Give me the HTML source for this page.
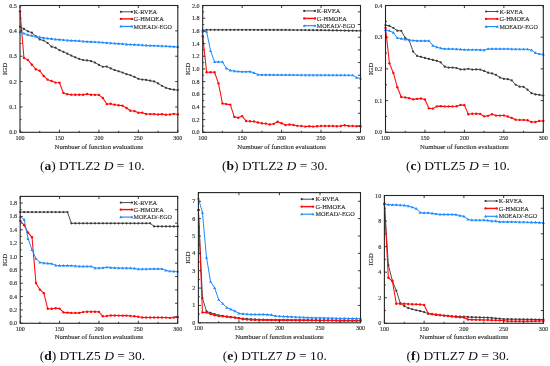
<!DOCTYPE html>
<html><head><meta charset="utf-8"><title>IGD convergence</title>
<style>
html,body{margin:0;padding:0;background:#fff;}
body{width:550px;height:366px;overflow:hidden;}
svg{display:block;}
#w{width:550px;height:366px;}
text{font-family:"Liberation Serif",serif;fill:#333;}
.tl text,.al,.yl,.lg{stroke:#333;stroke-width:0.16px;}
.tl text{font-size:6.1px;}
.al{font-size:6.7px;}
.yl{font-size:6.9px;}
.lg{font-size:6.4px;}
.cap{font-size:13.5px;fill:#111;}
</style></head><body>
<div id="w"><svg width="550" height="366" viewBox="0 0 550 366">
<rect width="550" height="366" fill="#fff"/>
<path d="M20 26.7 L23.95 28.91 L27.89 31.29 L31.84 32.71 L35.78 36.13 L39.73 39.47 L43.67 40.48 L47.62 42.99 L51.56 46.64 L55.51 47.7 L59.45 50.16 L63.4 51.79 L67.34 53.72 L71.28 55.56 L75.23 57.34 L79.17 58.86 L83.12 59.99 L87.07 60.4 L91.01 61.06 L94.96 62.59 L98.9 64.89 L102.84 66.77 L106.79 66.54 L110.73 68.43 L114.68 70.12 L118.63 71.29 L122.57 72.53 L126.52 74.16 L130.46 75.23 L134.41 76.91 L138.35 78.85 L142.3 79.53 L146.24 79.91 L150.19 80.72 L154.13 81.42 L158.07 83.39 L162.02 85.87 L165.97 87.8 L169.91 88.99 L173.86 89.66 L177.8 90.1" fill="none" stroke="#383838" stroke-width="0.9" stroke-linejoin="round"/>
<circle cx="20" cy="26.7" r="1.1" fill="#383838"/><circle cx="23.95" cy="28.91" r="1.1" fill="#383838"/><circle cx="27.89" cy="31.29" r="1.1" fill="#383838"/><circle cx="31.84" cy="32.71" r="1.1" fill="#383838"/><circle cx="35.78" cy="36.13" r="1.1" fill="#383838"/><circle cx="39.73" cy="39.47" r="1.1" fill="#383838"/><circle cx="43.67" cy="40.48" r="1.1" fill="#383838"/><circle cx="47.62" cy="42.99" r="1.1" fill="#383838"/><circle cx="51.56" cy="46.64" r="1.1" fill="#383838"/><circle cx="55.51" cy="47.7" r="1.1" fill="#383838"/><circle cx="59.45" cy="50.16" r="1.1" fill="#383838"/><circle cx="63.4" cy="51.79" r="1.1" fill="#383838"/><circle cx="67.34" cy="53.72" r="1.1" fill="#383838"/><circle cx="71.28" cy="55.56" r="1.1" fill="#383838"/><circle cx="75.23" cy="57.34" r="1.1" fill="#383838"/><circle cx="79.17" cy="58.86" r="1.1" fill="#383838"/><circle cx="83.12" cy="59.99" r="1.1" fill="#383838"/><circle cx="87.07" cy="60.4" r="1.1" fill="#383838"/><circle cx="91.01" cy="61.06" r="1.1" fill="#383838"/><circle cx="94.96" cy="62.59" r="1.1" fill="#383838"/><circle cx="98.9" cy="64.89" r="1.1" fill="#383838"/><circle cx="102.84" cy="66.77" r="1.1" fill="#383838"/><circle cx="106.79" cy="66.54" r="1.1" fill="#383838"/><circle cx="110.73" cy="68.43" r="1.1" fill="#383838"/><circle cx="114.68" cy="70.12" r="1.1" fill="#383838"/><circle cx="118.63" cy="71.29" r="1.1" fill="#383838"/><circle cx="122.57" cy="72.53" r="1.1" fill="#383838"/><circle cx="126.52" cy="74.16" r="1.1" fill="#383838"/><circle cx="130.46" cy="75.23" r="1.1" fill="#383838"/><circle cx="134.41" cy="76.91" r="1.1" fill="#383838"/><circle cx="138.35" cy="78.85" r="1.1" fill="#383838"/><circle cx="142.3" cy="79.53" r="1.1" fill="#383838"/><circle cx="146.24" cy="79.91" r="1.1" fill="#383838"/><circle cx="150.19" cy="80.72" r="1.1" fill="#383838"/><circle cx="154.13" cy="81.42" r="1.1" fill="#383838"/><circle cx="158.07" cy="83.39" r="1.1" fill="#383838"/><circle cx="162.02" cy="85.87" r="1.1" fill="#383838"/><circle cx="165.97" cy="87.8" r="1.1" fill="#383838"/><circle cx="169.91" cy="88.99" r="1.1" fill="#383838"/><circle cx="173.86" cy="89.66" r="1.1" fill="#383838"/><circle cx="177.8" cy="90.1" r="1.1" fill="#383838"/>
<path d="M20 11.2 L23.95 58.02 L27.89 59.9 L31.84 64.68 L35.78 69.23 L39.73 70.73 L43.67 75.96 L47.62 79.63 L51.56 81.05 L55.51 82.6 L59.45 82.81 L63.4 92.9 L67.34 94.15 L71.28 94.67 L75.23 94.75 L79.17 94.8 L83.12 94.77 L87.07 93.96 L91.01 94.8 L94.96 94.85 L98.9 94.9 L102.84 97.96 L106.79 104.09 L110.73 103.75 L114.68 104.65 L118.63 105.3 L122.57 105.63 L126.52 107.95 L130.46 110.7 L134.41 111.09 L138.35 112.78 L142.3 112.64 L146.24 114.01 L150.19 114.1 L154.13 114.1 L158.07 114.49 L162.02 114.13 L165.97 114.73 L169.91 114.52 L173.86 113.83 L177.8 114.4" fill="none" stroke="#ff0a0a" stroke-width="1.05" stroke-linejoin="round"/>
<circle cx="20" cy="11.2" r="1.2" fill="#ff0a0a"/><circle cx="23.95" cy="58.02" r="1.2" fill="#ff0a0a"/><circle cx="27.89" cy="59.9" r="1.2" fill="#ff0a0a"/><circle cx="31.84" cy="64.68" r="1.2" fill="#ff0a0a"/><circle cx="35.78" cy="69.23" r="1.2" fill="#ff0a0a"/><circle cx="39.73" cy="70.73" r="1.2" fill="#ff0a0a"/><circle cx="43.67" cy="75.96" r="1.2" fill="#ff0a0a"/><circle cx="47.62" cy="79.63" r="1.2" fill="#ff0a0a"/><circle cx="51.56" cy="81.05" r="1.2" fill="#ff0a0a"/><circle cx="55.51" cy="82.6" r="1.2" fill="#ff0a0a"/><circle cx="59.45" cy="82.81" r="1.2" fill="#ff0a0a"/><circle cx="63.4" cy="92.9" r="1.2" fill="#ff0a0a"/><circle cx="67.34" cy="94.15" r="1.2" fill="#ff0a0a"/><circle cx="71.28" cy="94.67" r="1.2" fill="#ff0a0a"/><circle cx="75.23" cy="94.75" r="1.2" fill="#ff0a0a"/><circle cx="79.17" cy="94.8" r="1.2" fill="#ff0a0a"/><circle cx="83.12" cy="94.77" r="1.2" fill="#ff0a0a"/><circle cx="87.07" cy="93.96" r="1.2" fill="#ff0a0a"/><circle cx="91.01" cy="94.8" r="1.2" fill="#ff0a0a"/><circle cx="94.96" cy="94.85" r="1.2" fill="#ff0a0a"/><circle cx="98.9" cy="94.9" r="1.2" fill="#ff0a0a"/><circle cx="102.84" cy="97.96" r="1.2" fill="#ff0a0a"/><circle cx="106.79" cy="104.09" r="1.2" fill="#ff0a0a"/><circle cx="110.73" cy="103.75" r="1.2" fill="#ff0a0a"/><circle cx="114.68" cy="104.65" r="1.2" fill="#ff0a0a"/><circle cx="118.63" cy="105.3" r="1.2" fill="#ff0a0a"/><circle cx="122.57" cy="105.63" r="1.2" fill="#ff0a0a"/><circle cx="126.52" cy="107.95" r="1.2" fill="#ff0a0a"/><circle cx="130.46" cy="110.7" r="1.2" fill="#ff0a0a"/><circle cx="134.41" cy="111.09" r="1.2" fill="#ff0a0a"/><circle cx="138.35" cy="112.78" r="1.2" fill="#ff0a0a"/><circle cx="142.3" cy="112.64" r="1.2" fill="#ff0a0a"/><circle cx="146.24" cy="114.01" r="1.2" fill="#ff0a0a"/><circle cx="150.19" cy="114.1" r="1.2" fill="#ff0a0a"/><circle cx="154.13" cy="114.1" r="1.2" fill="#ff0a0a"/><circle cx="158.07" cy="114.49" r="1.2" fill="#ff0a0a"/><circle cx="162.02" cy="114.13" r="1.2" fill="#ff0a0a"/><circle cx="165.97" cy="114.73" r="1.2" fill="#ff0a0a"/><circle cx="169.91" cy="114.52" r="1.2" fill="#ff0a0a"/><circle cx="173.86" cy="113.83" r="1.2" fill="#ff0a0a"/><circle cx="177.8" cy="114.4" r="1.2" fill="#ff0a0a"/>
<path d="M20 31.8 L23.95 33.38 L27.89 34.92 L31.84 35.64 L35.78 36.38 L39.73 37.15 L43.67 37.79 L47.62 38.36 L51.56 38.81 L55.51 39.23 L59.45 39.6 L63.4 39.95 L67.34 40.23 L71.28 40.49 L75.23 40.69 L79.17 40.9 L83.12 41.26 L87.07 41.61 L91.01 41.78 L94.96 41.95 L98.9 42.19 L102.84 42.45 L106.79 42.79 L110.73 43.15 L114.68 43.33 L118.63 43.49 L122.57 43.88 L126.52 44.29 L130.46 44.45 L134.41 44.61 L138.35 44.87 L142.3 45.12 L146.24 45.33 L150.19 45.53 L154.13 45.68 L158.07 45.83 L162.02 45.99 L165.97 46.17 L169.91 46.42 L173.86 46.67 L177.8 46.9" fill="none" stroke="#1e8aff" stroke-width="1.0" stroke-linejoin="round"/>
<path d="M20 30.25L21.55 32.96L18.45 32.96Z" fill="#1e8aff"/><path d="M23.95 31.83L25.5 34.55L22.39 34.55Z" fill="#1e8aff"/><path d="M27.89 33.37L29.44 36.09L26.34 36.09Z" fill="#1e8aff"/><path d="M31.84 34.09L33.38 36.8L30.29 36.8Z" fill="#1e8aff"/><path d="M35.78 34.83L37.33 37.55L34.23 37.55Z" fill="#1e8aff"/><path d="M39.73 35.6L41.27 38.31L38.18 38.31Z" fill="#1e8aff"/><path d="M43.67 36.24L45.22 38.95L42.12 38.95Z" fill="#1e8aff"/><path d="M47.62 36.81L49.16 39.52L46.07 39.52Z" fill="#1e8aff"/><path d="M51.56 37.26L53.11 39.97L50.01 39.97Z" fill="#1e8aff"/><path d="M55.51 37.68L57.05 40.39L53.96 40.39Z" fill="#1e8aff"/><path d="M59.45 38.05L61 40.76L57.9 40.76Z" fill="#1e8aff"/><path d="M63.4 38.4L64.95 41.12L61.85 41.12Z" fill="#1e8aff"/><path d="M67.34 38.68L68.89 41.39L65.79 41.39Z" fill="#1e8aff"/><path d="M71.28 38.94L72.83 41.65L69.73 41.65Z" fill="#1e8aff"/><path d="M75.23 39.14L76.78 41.86L73.68 41.86Z" fill="#1e8aff"/><path d="M79.17 39.35L80.72 42.06L77.62 42.06Z" fill="#1e8aff"/><path d="M83.12 39.71L84.67 42.42L81.57 42.42Z" fill="#1e8aff"/><path d="M87.07 40.06L88.62 42.77L85.52 42.77Z" fill="#1e8aff"/><path d="M91.01 40.23L92.56 42.95L89.46 42.95Z" fill="#1e8aff"/><path d="M94.96 40.4L96.51 43.12L93.41 43.12Z" fill="#1e8aff"/><path d="M98.9 40.64L100.45 43.35L97.35 43.35Z" fill="#1e8aff"/><path d="M102.84 40.9L104.39 43.61L101.3 43.61Z" fill="#1e8aff"/><path d="M106.79 41.24L108.34 43.95L105.24 43.95Z" fill="#1e8aff"/><path d="M110.73 41.6L112.28 44.31L109.19 44.31Z" fill="#1e8aff"/><path d="M114.68 41.78L116.23 44.49L113.13 44.49Z" fill="#1e8aff"/><path d="M118.63 41.94L120.18 44.65L117.08 44.65Z" fill="#1e8aff"/><path d="M122.57 42.33L124.12 45.04L121.02 45.04Z" fill="#1e8aff"/><path d="M126.52 42.74L128.07 45.45L124.97 45.45Z" fill="#1e8aff"/><path d="M130.46 42.9L132.01 45.61L128.91 45.61Z" fill="#1e8aff"/><path d="M134.41 43.06L135.96 45.78L132.86 45.78Z" fill="#1e8aff"/><path d="M138.35 43.32L139.9 46.03L136.8 46.03Z" fill="#1e8aff"/><path d="M142.3 43.57L143.85 46.28L140.75 46.28Z" fill="#1e8aff"/><path d="M146.24 43.78L147.79 46.49L144.69 46.49Z" fill="#1e8aff"/><path d="M150.19 43.98L151.74 46.69L148.63 46.69Z" fill="#1e8aff"/><path d="M154.13 44.13L155.68 46.84L152.58 46.84Z" fill="#1e8aff"/><path d="M158.07 44.28L159.62 47L156.52 47Z" fill="#1e8aff"/><path d="M162.02 44.44L163.57 47.15L160.47 47.15Z" fill="#1e8aff"/><path d="M165.97 44.62L167.52 47.34L164.41 47.34Z" fill="#1e8aff"/><path d="M169.91 44.87L171.46 47.58L168.36 47.58Z" fill="#1e8aff"/><path d="M173.86 45.12L175.41 47.83L172.31 47.83Z" fill="#1e8aff"/><path d="M177.8 45.35L179.35 48.06L176.25 48.06Z" fill="#1e8aff"/>
<rect x="20" y="5.5" width="157.8" height="126.8" fill="none" stroke="#262626" stroke-width="1.1"/>
<path d="M20 132.3V129.7M20 5.5V8.1M39.73 132.3V130.8M59.45 132.3V129.7M59.45 5.5V8.1M79.18 132.3V130.8M98.9 132.3V129.7M98.9 5.5V8.1M118.62 132.3V130.8M138.35 132.3V129.7M138.35 5.5V8.1M158.08 132.3V130.8M177.8 132.3V129.7M177.8 5.5V8.1M20 132.3H22.6M20 119.62H21.5M20 106.94H22.6M20 94.26H21.5M20 81.58H22.6M20 68.9H21.5M20 56.22H22.6M20 43.54H21.5M20 30.86H22.6M20 18.18H21.5M20 5.5H22.6M177.8 106.94H175.2M177.8 81.58H175.2M177.8 56.22H175.2M177.8 30.86H175.2" stroke="#262626" stroke-width="0.9" fill="none"/>
<g class="tl"><text x="16.8" y="134.3" text-anchor="end">0.0</text><text x="16.8" y="108.94" text-anchor="end">0.1</text><text x="16.8" y="83.58" text-anchor="end">0.2</text><text x="16.8" y="58.22" text-anchor="end">0.3</text><text x="16.8" y="32.86" text-anchor="end">0.4</text><text x="16.8" y="7.5" text-anchor="end">0.5</text><text x="20" y="139.9" text-anchor="middle">100</text><text x="59.45" y="139.9" text-anchor="middle">150</text><text x="98.9" y="139.9" text-anchor="middle">200</text><text x="138.35" y="139.9" text-anchor="middle">250</text><text x="177.8" y="139.9" text-anchor="middle">300</text></g>
<text class="al" x="98.9" y="148.8" text-anchor="middle">Numbuer of function evaluations</text>
<text class="yl" transform="translate(6.6 68.9) rotate(-90)" text-anchor="middle">IGD</text>
<path d="M120.4 11.8H132.4" stroke="#383838" stroke-width="0.9"/>
<circle cx="120.9" cy="11.8" r="1.1" fill="#383838"/><circle cx="131.9" cy="11.8" r="1.1" fill="#383838"/>
<text class="lg" x="133.6" y="13.9">K-RVEA</text>
<path d="M120.4 18.9H132.4" stroke="#ff0a0a" stroke-width="1.4"/>
<circle cx="120.9" cy="18.9" r="1.2" fill="#ff0a0a"/><circle cx="131.9" cy="18.9" r="1.2" fill="#ff0a0a"/>
<text class="lg" x="133.6" y="21">G-HMOEA</text>
<path d="M120.4 26.4H132.4" stroke="#1e8aff" stroke-width="1.15"/>
<path d="M120.9 24.85L122.45 27.56L119.35 27.56Z" fill="#1e8aff"/><path d="M131.9 24.85L133.45 27.56L130.35 27.56Z" fill="#1e8aff"/>
<text class="lg" x="133.6" y="28.5" textLength="38.4" lengthAdjust="spacingAndGlyphs">MOEAD/-EGO</text>
<text class="cap" x="39.9" y="169.8">(<tspan font-weight="bold">a</tspan>) DTLZ2 <tspan font-style="italic">D</tspan> = 10.</text>
<path d="M202.7 30.38 L206.64 29.8 L210.59 29.81 L214.53 29.81 L218.48 29.82 L222.42 29.82 L226.37 29.83 L230.31 29.83 L234.26 29.84 L238.2 29.84 L242.15 29.85 L246.09 29.85 L250.04 29.86 L253.98 29.86 L257.93 29.87 L261.88 29.88 L265.82 29.88 L269.76 29.89 L273.71 29.89 L277.65 29.9 L281.6 29.91 L285.54 29.94 L289.49 29.97 L293.44 30 L297.38 30.03 L301.32 30.06 L305.27 30.09 L309.22 30.12 L313.16 30.15 L317.11 30.18 L321.05 30.22 L325 30.27 L328.94 30.33 L332.88 30.39 L336.83 30.45 L340.77 30.51 L344.72 30.57 L348.66 30.63 L352.61 30.69 L356.56 30.75 L360.5 30.8" fill="none" stroke="#383838" stroke-width="0.9" stroke-linejoin="round"/>
<circle cx="202.7" cy="30.38" r="1.1" fill="#383838"/><circle cx="206.64" cy="29.8" r="1.1" fill="#383838"/><circle cx="210.59" cy="29.81" r="1.1" fill="#383838"/><circle cx="214.53" cy="29.81" r="1.1" fill="#383838"/><circle cx="218.48" cy="29.82" r="1.1" fill="#383838"/><circle cx="222.42" cy="29.82" r="1.1" fill="#383838"/><circle cx="226.37" cy="29.83" r="1.1" fill="#383838"/><circle cx="230.31" cy="29.83" r="1.1" fill="#383838"/><circle cx="234.26" cy="29.84" r="1.1" fill="#383838"/><circle cx="238.2" cy="29.84" r="1.1" fill="#383838"/><circle cx="242.15" cy="29.85" r="1.1" fill="#383838"/><circle cx="246.09" cy="29.85" r="1.1" fill="#383838"/><circle cx="250.04" cy="29.86" r="1.1" fill="#383838"/><circle cx="253.98" cy="29.86" r="1.1" fill="#383838"/><circle cx="257.93" cy="29.87" r="1.1" fill="#383838"/><circle cx="261.88" cy="29.88" r="1.1" fill="#383838"/><circle cx="265.82" cy="29.88" r="1.1" fill="#383838"/><circle cx="269.76" cy="29.89" r="1.1" fill="#383838"/><circle cx="273.71" cy="29.89" r="1.1" fill="#383838"/><circle cx="277.65" cy="29.9" r="1.1" fill="#383838"/><circle cx="281.6" cy="29.91" r="1.1" fill="#383838"/><circle cx="285.54" cy="29.94" r="1.1" fill="#383838"/><circle cx="289.49" cy="29.97" r="1.1" fill="#383838"/><circle cx="293.44" cy="30" r="1.1" fill="#383838"/><circle cx="297.38" cy="30.03" r="1.1" fill="#383838"/><circle cx="301.32" cy="30.06" r="1.1" fill="#383838"/><circle cx="305.27" cy="30.09" r="1.1" fill="#383838"/><circle cx="309.22" cy="30.12" r="1.1" fill="#383838"/><circle cx="313.16" cy="30.15" r="1.1" fill="#383838"/><circle cx="317.11" cy="30.18" r="1.1" fill="#383838"/><circle cx="321.05" cy="30.22" r="1.1" fill="#383838"/><circle cx="325" cy="30.27" r="1.1" fill="#383838"/><circle cx="328.94" cy="30.33" r="1.1" fill="#383838"/><circle cx="332.88" cy="30.39" r="1.1" fill="#383838"/><circle cx="336.83" cy="30.45" r="1.1" fill="#383838"/><circle cx="340.77" cy="30.51" r="1.1" fill="#383838"/><circle cx="344.72" cy="30.57" r="1.1" fill="#383838"/><circle cx="348.66" cy="30.63" r="1.1" fill="#383838"/><circle cx="352.61" cy="30.69" r="1.1" fill="#383838"/><circle cx="356.56" cy="30.75" r="1.1" fill="#383838"/><circle cx="360.5" cy="30.8" r="1.1" fill="#383838"/>
<path d="M202.7 36 L206.64 72.2 L210.59 72.2 L214.53 72.3 L218.48 83.33 L222.42 103.44 L226.37 104.11 L230.31 104.65 L234.26 116.87 L238.2 117.72 L242.15 116.1 L246.09 121.04 L250.04 121.31 L253.98 121.42 L257.93 122.52 L261.88 123.28 L265.82 123.6 L269.76 124.48 L273.71 123.83 L277.65 121.72 L281.6 123.19 L285.54 125.08 L289.49 124.57 L293.44 125.04 L297.38 125.85 L301.32 126 L305.27 126.59 L309.22 126.31 L313.16 126.58 L317.11 126.27 L321.05 126 L325 126 L328.94 126 L332.88 126.01 L336.83 126.28 L340.77 126.01 L344.72 125.25 L348.66 125.97 L352.61 126 L356.56 126.3 L360.5 126.3" fill="none" stroke="#ff0a0a" stroke-width="1.05" stroke-linejoin="round"/>
<circle cx="202.7" cy="36" r="1.2" fill="#ff0a0a"/><circle cx="206.64" cy="72.2" r="1.2" fill="#ff0a0a"/><circle cx="210.59" cy="72.2" r="1.2" fill="#ff0a0a"/><circle cx="214.53" cy="72.3" r="1.2" fill="#ff0a0a"/><circle cx="218.48" cy="83.33" r="1.2" fill="#ff0a0a"/><circle cx="222.42" cy="103.44" r="1.2" fill="#ff0a0a"/><circle cx="226.37" cy="104.11" r="1.2" fill="#ff0a0a"/><circle cx="230.31" cy="104.65" r="1.2" fill="#ff0a0a"/><circle cx="234.26" cy="116.87" r="1.2" fill="#ff0a0a"/><circle cx="238.2" cy="117.72" r="1.2" fill="#ff0a0a"/><circle cx="242.15" cy="116.1" r="1.2" fill="#ff0a0a"/><circle cx="246.09" cy="121.04" r="1.2" fill="#ff0a0a"/><circle cx="250.04" cy="121.31" r="1.2" fill="#ff0a0a"/><circle cx="253.98" cy="121.42" r="1.2" fill="#ff0a0a"/><circle cx="257.93" cy="122.52" r="1.2" fill="#ff0a0a"/><circle cx="261.88" cy="123.28" r="1.2" fill="#ff0a0a"/><circle cx="265.82" cy="123.6" r="1.2" fill="#ff0a0a"/><circle cx="269.76" cy="124.48" r="1.2" fill="#ff0a0a"/><circle cx="273.71" cy="123.83" r="1.2" fill="#ff0a0a"/><circle cx="277.65" cy="121.72" r="1.2" fill="#ff0a0a"/><circle cx="281.6" cy="123.19" r="1.2" fill="#ff0a0a"/><circle cx="285.54" cy="125.08" r="1.2" fill="#ff0a0a"/><circle cx="289.49" cy="124.57" r="1.2" fill="#ff0a0a"/><circle cx="293.44" cy="125.04" r="1.2" fill="#ff0a0a"/><circle cx="297.38" cy="125.85" r="1.2" fill="#ff0a0a"/><circle cx="301.32" cy="126" r="1.2" fill="#ff0a0a"/><circle cx="305.27" cy="126.59" r="1.2" fill="#ff0a0a"/><circle cx="309.22" cy="126.31" r="1.2" fill="#ff0a0a"/><circle cx="313.16" cy="126.58" r="1.2" fill="#ff0a0a"/><circle cx="317.11" cy="126.27" r="1.2" fill="#ff0a0a"/><circle cx="321.05" cy="126" r="1.2" fill="#ff0a0a"/><circle cx="325" cy="126" r="1.2" fill="#ff0a0a"/><circle cx="328.94" cy="126" r="1.2" fill="#ff0a0a"/><circle cx="332.88" cy="126.01" r="1.2" fill="#ff0a0a"/><circle cx="336.83" cy="126.28" r="1.2" fill="#ff0a0a"/><circle cx="340.77" cy="126.01" r="1.2" fill="#ff0a0a"/><circle cx="344.72" cy="125.25" r="1.2" fill="#ff0a0a"/><circle cx="348.66" cy="125.97" r="1.2" fill="#ff0a0a"/><circle cx="352.61" cy="126" r="1.2" fill="#ff0a0a"/><circle cx="356.56" cy="126.3" r="1.2" fill="#ff0a0a"/><circle cx="360.5" cy="126.3" r="1.2" fill="#ff0a0a"/>
<path d="M202.7 31.4 L206.64 31.6 L210.59 50.95 L214.53 61.8 L218.48 61.9 L222.42 61.94 L226.37 68.3 L230.31 70.31 L234.26 71.06 L238.2 71.46 L242.15 71.7 L246.09 71.68 L250.04 71.51 L253.98 72.84 L257.93 74.54 L261.88 74.8 L265.82 74.8 L269.76 74.81 L273.71 74.86 L277.65 74.9 L281.6 74.9 L285.54 74.91 L289.49 74.92 L293.44 74.94 L297.38 74.96 L301.32 74.98 L305.27 74.99 L309.22 75.01 L313.16 75.03 L317.11 75.04 L321.05 75.06 L325 75.08 L328.94 75.1 L332.88 75.11 L336.83 75.13 L340.77 75.15 L344.72 75.17 L348.66 75.18 L352.61 75.2 L356.56 77.51 L360.5 78.3" fill="none" stroke="#1e8aff" stroke-width="1.0" stroke-linejoin="round"/>
<path d="M202.7 29.85L204.25 32.56L201.15 32.56Z" fill="#1e8aff"/><path d="M206.64 30.05L208.19 32.76L205.09 32.76Z" fill="#1e8aff"/><path d="M210.59 49.4L212.14 52.12L209.04 52.12Z" fill="#1e8aff"/><path d="M214.53 60.25L216.09 62.97L212.98 62.97Z" fill="#1e8aff"/><path d="M218.48 60.35L220.03 63.06L216.93 63.06Z" fill="#1e8aff"/><path d="M222.42 60.39L223.97 63.11L220.87 63.11Z" fill="#1e8aff"/><path d="M226.37 66.75L227.92 69.47L224.82 69.47Z" fill="#1e8aff"/><path d="M230.31 68.76L231.87 71.47L228.76 71.47Z" fill="#1e8aff"/><path d="M234.26 69.51L235.81 72.22L232.71 72.22Z" fill="#1e8aff"/><path d="M238.2 69.91L239.75 72.62L236.65 72.62Z" fill="#1e8aff"/><path d="M242.15 70.15L243.7 72.86L240.6 72.86Z" fill="#1e8aff"/><path d="M246.09 70.13L247.65 72.85L244.54 72.85Z" fill="#1e8aff"/><path d="M250.04 69.96L251.59 72.67L248.49 72.67Z" fill="#1e8aff"/><path d="M253.98 71.29L255.53 74L252.43 74Z" fill="#1e8aff"/><path d="M257.93 72.99L259.48 75.7L256.38 75.7Z" fill="#1e8aff"/><path d="M261.88 73.25L263.43 75.96L260.32 75.96Z" fill="#1e8aff"/><path d="M265.82 73.25L267.37 75.96L264.27 75.96Z" fill="#1e8aff"/><path d="M269.76 73.26L271.31 75.98L268.21 75.98Z" fill="#1e8aff"/><path d="M273.71 73.31L275.26 76.03L272.16 76.03Z" fill="#1e8aff"/><path d="M277.65 73.35L279.2 76.06L276.1 76.06Z" fill="#1e8aff"/><path d="M281.6 73.35L283.15 76.06L280.05 76.06Z" fill="#1e8aff"/><path d="M285.54 73.36L287.09 76.07L283.99 76.07Z" fill="#1e8aff"/><path d="M289.49 73.37L291.04 76.09L287.94 76.09Z" fill="#1e8aff"/><path d="M293.44 73.39L294.99 76.1L291.88 76.1Z" fill="#1e8aff"/><path d="M297.38 73.41L298.93 76.12L295.83 76.12Z" fill="#1e8aff"/><path d="M301.32 73.43L302.88 76.14L299.77 76.14Z" fill="#1e8aff"/><path d="M305.27 73.44L306.82 76.16L303.72 76.16Z" fill="#1e8aff"/><path d="M309.22 73.46L310.77 76.17L307.67 76.17Z" fill="#1e8aff"/><path d="M313.16 73.48L314.71 76.19L311.61 76.19Z" fill="#1e8aff"/><path d="M317.11 73.49L318.66 76.21L315.56 76.21Z" fill="#1e8aff"/><path d="M321.05 73.51L322.6 76.22L319.5 76.22Z" fill="#1e8aff"/><path d="M325 73.53L326.55 76.24L323.44 76.24Z" fill="#1e8aff"/><path d="M328.94 73.55L330.49 76.26L327.39 76.26Z" fill="#1e8aff"/><path d="M332.88 73.56L334.44 76.28L331.33 76.28Z" fill="#1e8aff"/><path d="M336.83 73.58L338.38 76.29L335.28 76.29Z" fill="#1e8aff"/><path d="M340.77 73.6L342.32 76.31L339.22 76.31Z" fill="#1e8aff"/><path d="M344.72 73.62L346.27 76.33L343.17 76.33Z" fill="#1e8aff"/><path d="M348.66 73.63L350.21 76.34L347.11 76.34Z" fill="#1e8aff"/><path d="M352.61 73.65L354.16 76.36L351.06 76.36Z" fill="#1e8aff"/><path d="M356.56 75.96L358.11 78.67L355 78.67Z" fill="#1e8aff"/><path d="M360.5 76.75L362.05 79.46L358.95 79.46Z" fill="#1e8aff"/>
<rect x="202.7" y="5.5" width="157.8" height="126.8" fill="none" stroke="#262626" stroke-width="1.1"/>
<path d="M202.7 132.3V129.7M202.7 5.5V8.1M222.42 132.3V130.8M242.15 132.3V129.7M242.15 5.5V8.1M261.88 132.3V130.8M281.6 132.3V129.7M281.6 5.5V8.1M301.32 132.3V130.8M321.05 132.3V129.7M321.05 5.5V8.1M340.77 132.3V130.8M360.5 132.3V129.7M360.5 5.5V8.1M202.7 132.3H205.3M202.7 125.96H204.2M202.7 119.62H205.3M202.7 113.28H204.2M202.7 106.94H205.3M202.7 100.6H204.2M202.7 94.26H205.3M202.7 87.92H204.2M202.7 81.58H205.3M202.7 75.24H204.2M202.7 68.9H205.3M202.7 62.56H204.2M202.7 56.22H205.3M202.7 49.88H204.2M202.7 43.54H205.3M202.7 37.2H204.2M202.7 30.86H205.3M202.7 24.52H204.2M202.7 18.18H205.3M202.7 11.84H204.2M202.7 5.5H205.3M360.5 125.96H357.9M360.5 113.28H357.9M360.5 100.6H357.9M360.5 87.92H357.9M360.5 75.24H357.9M360.5 62.56H357.9M360.5 49.88H357.9M360.5 37.2H357.9M360.5 24.52H357.9M360.5 11.84H357.9" stroke="#262626" stroke-width="0.9" fill="none"/>
<g class="tl"><text x="199.5" y="134.3" text-anchor="end">0.0</text><text x="199.5" y="121.62" text-anchor="end">0.2</text><text x="199.5" y="108.94" text-anchor="end">0.4</text><text x="199.5" y="96.26" text-anchor="end">0.6</text><text x="199.5" y="83.58" text-anchor="end">0.8</text><text x="199.5" y="70.9" text-anchor="end">1.0</text><text x="199.5" y="58.22" text-anchor="end">1.2</text><text x="199.5" y="45.54" text-anchor="end">1.4</text><text x="199.5" y="32.86" text-anchor="end">1.6</text><text x="199.5" y="20.18" text-anchor="end">1.8</text><text x="199.5" y="7.5" text-anchor="end">2.0</text><text x="202.7" y="139.9" text-anchor="middle">100</text><text x="242.15" y="139.9" text-anchor="middle">150</text><text x="281.6" y="139.9" text-anchor="middle">200</text><text x="321.05" y="139.9" text-anchor="middle">250</text><text x="360.5" y="139.9" text-anchor="middle">300</text></g>
<text class="al" x="281.6" y="148.8" text-anchor="middle">Numbuer of function evaluations</text>
<text class="yl" transform="translate(189.7 68.9) rotate(-90)" text-anchor="middle">IGD</text>
<path d="M303.7 10.9H315.5" stroke="#383838" stroke-width="0.9"/>
<circle cx="304.2" cy="10.9" r="1.1" fill="#383838"/><circle cx="315" cy="10.9" r="1.1" fill="#383838"/>
<text class="lg" x="316.8" y="13">K-RVEA</text>
<path d="M303.7 18.4H315.5" stroke="#ff0a0a" stroke-width="1.4"/>
<circle cx="304.2" cy="18.4" r="1.2" fill="#ff0a0a"/><circle cx="315" cy="18.4" r="1.2" fill="#ff0a0a"/>
<text class="lg" x="316.8" y="20.5">G-HMOEA</text>
<path d="M303.7 25.7H315.5" stroke="#1e8aff" stroke-width="1.15"/>
<path d="M304.2 24.15L305.75 26.86L302.65 26.86Z" fill="#1e8aff"/><path d="M315 24.15L316.55 26.86L313.45 26.86Z" fill="#1e8aff"/>
<text class="lg" x="316.8" y="27.8" textLength="38.4" lengthAdjust="spacingAndGlyphs">MOEAD/-EGO</text>
<text class="cap" x="222.1" y="169.8">(<tspan font-weight="bold">b</tspan>) DTLZ2 <tspan font-style="italic">D</tspan> = 30.</text>
<path d="M385.5 25.2 L389.44 25.91 L393.39 28.02 L397.33 30.69 L401.28 30.8 L405.23 37.91 L409.17 40.21 L413.12 51.57 L417.06 55.89 L421 56.85 L424.95 57.96 L428.89 58.9 L432.84 59.93 L436.78 60.79 L440.73 62.3 L444.67 66.64 L448.62 67.6 L452.56 67.6 L456.51 67.98 L460.45 69.45 L464.4 69.43 L468.34 68.81 L472.29 69.6 L476.23 69.4 L480.18 69.53 L484.12 70.91 L488.07 72.7 L492.01 73.47 L495.96 74.82 L499.9 77.57 L503.85 78.83 L507.79 79.17 L511.74 80.4 L515.68 84.77 L519.63 86.7 L523.57 86.83 L527.52 89.71 L531.46 93.22 L535.41 94.44 L539.36 94.84 L543.3 95.6" fill="none" stroke="#383838" stroke-width="0.9" stroke-linejoin="round"/>
<circle cx="385.5" cy="25.2" r="1.1" fill="#383838"/><circle cx="389.44" cy="25.91" r="1.1" fill="#383838"/><circle cx="393.39" cy="28.02" r="1.1" fill="#383838"/><circle cx="397.33" cy="30.69" r="1.1" fill="#383838"/><circle cx="401.28" cy="30.8" r="1.1" fill="#383838"/><circle cx="405.23" cy="37.91" r="1.1" fill="#383838"/><circle cx="409.17" cy="40.21" r="1.1" fill="#383838"/><circle cx="413.12" cy="51.57" r="1.1" fill="#383838"/><circle cx="417.06" cy="55.89" r="1.1" fill="#383838"/><circle cx="421" cy="56.85" r="1.1" fill="#383838"/><circle cx="424.95" cy="57.96" r="1.1" fill="#383838"/><circle cx="428.89" cy="58.9" r="1.1" fill="#383838"/><circle cx="432.84" cy="59.93" r="1.1" fill="#383838"/><circle cx="436.78" cy="60.79" r="1.1" fill="#383838"/><circle cx="440.73" cy="62.3" r="1.1" fill="#383838"/><circle cx="444.67" cy="66.64" r="1.1" fill="#383838"/><circle cx="448.62" cy="67.6" r="1.1" fill="#383838"/><circle cx="452.56" cy="67.6" r="1.1" fill="#383838"/><circle cx="456.51" cy="67.98" r="1.1" fill="#383838"/><circle cx="460.45" cy="69.45" r="1.1" fill="#383838"/><circle cx="464.4" cy="69.43" r="1.1" fill="#383838"/><circle cx="468.34" cy="68.81" r="1.1" fill="#383838"/><circle cx="472.29" cy="69.6" r="1.1" fill="#383838"/><circle cx="476.23" cy="69.4" r="1.1" fill="#383838"/><circle cx="480.18" cy="69.53" r="1.1" fill="#383838"/><circle cx="484.12" cy="70.91" r="1.1" fill="#383838"/><circle cx="488.07" cy="72.7" r="1.1" fill="#383838"/><circle cx="492.01" cy="73.47" r="1.1" fill="#383838"/><circle cx="495.96" cy="74.82" r="1.1" fill="#383838"/><circle cx="499.9" cy="77.57" r="1.1" fill="#383838"/><circle cx="503.85" cy="78.83" r="1.1" fill="#383838"/><circle cx="507.79" cy="79.17" r="1.1" fill="#383838"/><circle cx="511.74" cy="80.4" r="1.1" fill="#383838"/><circle cx="515.68" cy="84.77" r="1.1" fill="#383838"/><circle cx="519.63" cy="86.7" r="1.1" fill="#383838"/><circle cx="523.57" cy="86.83" r="1.1" fill="#383838"/><circle cx="527.52" cy="89.71" r="1.1" fill="#383838"/><circle cx="531.46" cy="93.22" r="1.1" fill="#383838"/><circle cx="535.41" cy="94.44" r="1.1" fill="#383838"/><circle cx="539.36" cy="94.84" r="1.1" fill="#383838"/><circle cx="543.3" cy="95.6" r="1.1" fill="#383838"/>
<path d="M385.5 28 L389.44 63.34 L393.39 72.98 L397.33 87.31 L401.28 97.02 L405.23 97.4 L409.17 98.16 L413.12 99.36 L417.06 98.86 L421 98.41 L424.95 99.45 L428.89 108.33 L432.84 108.62 L436.78 106.38 L440.73 106.13 L444.67 106.4 L448.62 106.4 L452.56 106.4 L456.51 106.25 L460.45 104.9 L464.4 105.13 L468.34 114.27 L472.29 113.8 L476.23 113.79 L480.18 113.87 L484.12 116.37 L488.07 115.83 L492.01 114.18 L495.96 115.6 L499.9 115.58 L503.85 115.4 L507.79 116.54 L511.74 117.92 L515.68 119.65 L519.63 119.9 L523.57 119.91 L527.52 120.29 L531.46 121.98 L535.41 121.94 L539.36 121 L543.3 121" fill="none" stroke="#ff0a0a" stroke-width="1.05" stroke-linejoin="round"/>
<circle cx="385.5" cy="28" r="1.2" fill="#ff0a0a"/><circle cx="389.44" cy="63.34" r="1.2" fill="#ff0a0a"/><circle cx="393.39" cy="72.98" r="1.2" fill="#ff0a0a"/><circle cx="397.33" cy="87.31" r="1.2" fill="#ff0a0a"/><circle cx="401.28" cy="97.02" r="1.2" fill="#ff0a0a"/><circle cx="405.23" cy="97.4" r="1.2" fill="#ff0a0a"/><circle cx="409.17" cy="98.16" r="1.2" fill="#ff0a0a"/><circle cx="413.12" cy="99.36" r="1.2" fill="#ff0a0a"/><circle cx="417.06" cy="98.86" r="1.2" fill="#ff0a0a"/><circle cx="421" cy="98.41" r="1.2" fill="#ff0a0a"/><circle cx="424.95" cy="99.45" r="1.2" fill="#ff0a0a"/><circle cx="428.89" cy="108.33" r="1.2" fill="#ff0a0a"/><circle cx="432.84" cy="108.62" r="1.2" fill="#ff0a0a"/><circle cx="436.78" cy="106.38" r="1.2" fill="#ff0a0a"/><circle cx="440.73" cy="106.13" r="1.2" fill="#ff0a0a"/><circle cx="444.67" cy="106.4" r="1.2" fill="#ff0a0a"/><circle cx="448.62" cy="106.4" r="1.2" fill="#ff0a0a"/><circle cx="452.56" cy="106.4" r="1.2" fill="#ff0a0a"/><circle cx="456.51" cy="106.25" r="1.2" fill="#ff0a0a"/><circle cx="460.45" cy="104.9" r="1.2" fill="#ff0a0a"/><circle cx="464.4" cy="105.13" r="1.2" fill="#ff0a0a"/><circle cx="468.34" cy="114.27" r="1.2" fill="#ff0a0a"/><circle cx="472.29" cy="113.8" r="1.2" fill="#ff0a0a"/><circle cx="476.23" cy="113.79" r="1.2" fill="#ff0a0a"/><circle cx="480.18" cy="113.87" r="1.2" fill="#ff0a0a"/><circle cx="484.12" cy="116.37" r="1.2" fill="#ff0a0a"/><circle cx="488.07" cy="115.83" r="1.2" fill="#ff0a0a"/><circle cx="492.01" cy="114.18" r="1.2" fill="#ff0a0a"/><circle cx="495.96" cy="115.6" r="1.2" fill="#ff0a0a"/><circle cx="499.9" cy="115.58" r="1.2" fill="#ff0a0a"/><circle cx="503.85" cy="115.4" r="1.2" fill="#ff0a0a"/><circle cx="507.79" cy="116.54" r="1.2" fill="#ff0a0a"/><circle cx="511.74" cy="117.92" r="1.2" fill="#ff0a0a"/><circle cx="515.68" cy="119.65" r="1.2" fill="#ff0a0a"/><circle cx="519.63" cy="119.9" r="1.2" fill="#ff0a0a"/><circle cx="523.57" cy="119.91" r="1.2" fill="#ff0a0a"/><circle cx="527.52" cy="120.29" r="1.2" fill="#ff0a0a"/><circle cx="531.46" cy="121.98" r="1.2" fill="#ff0a0a"/><circle cx="535.41" cy="121.94" r="1.2" fill="#ff0a0a"/><circle cx="539.36" cy="121" r="1.2" fill="#ff0a0a"/><circle cx="543.3" cy="121" r="1.2" fill="#ff0a0a"/>
<path d="M385.5 29.8 L389.44 30.69 L393.39 32.64 L397.33 37.94 L401.28 38.58 L405.23 39.4 L409.17 40.02 L413.12 40.45 L417.06 40.77 L421 40.8 L424.95 40.8 L428.89 40.8 L432.84 45.56 L436.78 47.17 L440.73 48.17 L444.67 48.9 L448.62 48.9 L452.56 48.93 L456.51 49.08 L460.45 49.34 L464.4 49.7 L468.34 49.7 L472.29 49.7 L476.23 49.7 L480.18 49.79 L484.12 49.99 L488.07 48.9 L492.01 48.9 L495.96 48.9 L499.9 48.9 L503.85 48.9 L507.79 48.9 L511.74 49.01 L515.68 49.17 L519.63 49.2 L523.57 49.2 L527.52 49.2 L531.46 50.09 L535.41 52.86 L539.36 53.96 L543.3 54.3" fill="none" stroke="#1e8aff" stroke-width="1.0" stroke-linejoin="round"/>
<path d="M385.5 28.25L387.05 30.96L383.95 30.96Z" fill="#1e8aff"/><path d="M389.44 29.14L391 31.85L387.89 31.85Z" fill="#1e8aff"/><path d="M393.39 31.09L394.94 33.8L391.84 33.8Z" fill="#1e8aff"/><path d="M397.33 36.39L398.88 39.1L395.78 39.1Z" fill="#1e8aff"/><path d="M401.28 37.03L402.83 39.74L399.73 39.74Z" fill="#1e8aff"/><path d="M405.23 37.85L406.78 40.57L403.68 40.57Z" fill="#1e8aff"/><path d="M409.17 38.47L410.72 41.18L407.62 41.18Z" fill="#1e8aff"/><path d="M413.12 38.9L414.67 41.61L411.56 41.61Z" fill="#1e8aff"/><path d="M417.06 39.22L418.61 41.94L415.51 41.94Z" fill="#1e8aff"/><path d="M421 39.25L422.56 41.96L419.45 41.96Z" fill="#1e8aff"/><path d="M424.95 39.25L426.5 41.96L423.4 41.96Z" fill="#1e8aff"/><path d="M428.89 39.25L430.44 41.96L427.34 41.96Z" fill="#1e8aff"/><path d="M432.84 44.01L434.39 46.72L431.29 46.72Z" fill="#1e8aff"/><path d="M436.78 45.62L438.33 48.34L435.23 48.34Z" fill="#1e8aff"/><path d="M440.73 46.62L442.28 49.33L439.18 49.33Z" fill="#1e8aff"/><path d="M444.67 47.35L446.22 50.06L443.12 50.06Z" fill="#1e8aff"/><path d="M448.62 47.35L450.17 50.06L447.07 50.06Z" fill="#1e8aff"/><path d="M452.56 47.38L454.12 50.09L451.01 50.09Z" fill="#1e8aff"/><path d="M456.51 47.53L458.06 50.25L454.96 50.25Z" fill="#1e8aff"/><path d="M460.45 47.79L462 50.5L458.9 50.5Z" fill="#1e8aff"/><path d="M464.4 48.15L465.95 50.86L462.85 50.86Z" fill="#1e8aff"/><path d="M468.34 48.15L469.89 50.86L466.79 50.86Z" fill="#1e8aff"/><path d="M472.29 48.15L473.84 50.86L470.74 50.86Z" fill="#1e8aff"/><path d="M476.23 48.15L477.78 50.86L474.68 50.86Z" fill="#1e8aff"/><path d="M480.18 48.24L481.73 50.95L478.63 50.95Z" fill="#1e8aff"/><path d="M484.12 48.44L485.68 51.15L482.57 51.15Z" fill="#1e8aff"/><path d="M488.07 47.35L489.62 50.06L486.52 50.06Z" fill="#1e8aff"/><path d="M492.01 47.35L493.56 50.06L490.46 50.06Z" fill="#1e8aff"/><path d="M495.96 47.35L497.51 50.06L494.41 50.06Z" fill="#1e8aff"/><path d="M499.9 47.35L501.45 50.06L498.35 50.06Z" fill="#1e8aff"/><path d="M503.85 47.35L505.4 50.06L502.3 50.06Z" fill="#1e8aff"/><path d="M507.79 47.35L509.34 50.06L506.24 50.06Z" fill="#1e8aff"/><path d="M511.74 47.46L513.29 50.17L510.19 50.17Z" fill="#1e8aff"/><path d="M515.68 47.62L517.23 50.33L514.13 50.33Z" fill="#1e8aff"/><path d="M519.63 47.65L521.18 50.36L518.08 50.36Z" fill="#1e8aff"/><path d="M523.57 47.65L525.12 50.36L522.02 50.36Z" fill="#1e8aff"/><path d="M527.52 47.65L529.07 50.36L525.97 50.36Z" fill="#1e8aff"/><path d="M531.46 48.54L533.01 51.25L529.91 51.25Z" fill="#1e8aff"/><path d="M535.41 51.31L536.96 54.02L533.86 54.02Z" fill="#1e8aff"/><path d="M539.36 52.41L540.9 55.12L537.81 55.12Z" fill="#1e8aff"/><path d="M543.3 52.75L544.85 55.46L541.75 55.46Z" fill="#1e8aff"/>
<rect x="385.5" y="5.5" width="157.8" height="126.8" fill="none" stroke="#262626" stroke-width="1.1"/>
<path d="M385.5 132.3V129.7M385.5 5.5V8.1M405.23 132.3V130.8M424.95 132.3V129.7M424.95 5.5V8.1M444.67 132.3V130.8M464.4 132.3V129.7M464.4 5.5V8.1M484.12 132.3V130.8M503.85 132.3V129.7M503.85 5.5V8.1M523.57 132.3V130.8M543.3 132.3V129.7M543.3 5.5V8.1M385.5 132.3H388.1M385.5 116.45H387M385.5 100.6H388.1M385.5 84.75H387M385.5 68.9H388.1M385.5 53.05H387M385.5 37.2H388.1M385.5 21.35H387M385.5 5.5H388.1M543.3 100.6H540.7M543.3 68.9H540.7M543.3 37.2H540.7" stroke="#262626" stroke-width="0.9" fill="none"/>
<g class="tl"><text x="382.3" y="134.3" text-anchor="end">0.0</text><text x="382.3" y="102.6" text-anchor="end">0.1</text><text x="382.3" y="70.9" text-anchor="end">0.2</text><text x="382.3" y="39.2" text-anchor="end">0.3</text><text x="382.3" y="7.5" text-anchor="end">0.4</text><text x="385.5" y="139.9" text-anchor="middle">100</text><text x="424.95" y="139.9" text-anchor="middle">150</text><text x="464.4" y="139.9" text-anchor="middle">200</text><text x="503.85" y="139.9" text-anchor="middle">250</text><text x="543.3" y="139.9" text-anchor="middle">300</text></g>
<text class="al" x="464.4" y="148.8" text-anchor="middle">Numbuer of function evaluations</text>
<text class="yl" transform="translate(372.6 68.9) rotate(-90)" text-anchor="middle">IGD</text>
<path d="M485.6 11.5H497.9" stroke="#383838" stroke-width="0.9"/>
<circle cx="486.1" cy="11.5" r="1.1" fill="#383838"/><circle cx="497.4" cy="11.5" r="1.1" fill="#383838"/>
<text class="lg" x="499.4" y="13.6">K-RVEA</text>
<path d="M485.6 18.9H497.9" stroke="#ff0a0a" stroke-width="1.4"/>
<circle cx="486.1" cy="18.9" r="1.2" fill="#ff0a0a"/><circle cx="497.4" cy="18.9" r="1.2" fill="#ff0a0a"/>
<text class="lg" x="499.4" y="21">G-HMOEA</text>
<path d="M485.6 26.6H497.9" stroke="#1e8aff" stroke-width="1.15"/>
<path d="M486.1 25.05L487.65 27.76L484.55 27.76Z" fill="#1e8aff"/><path d="M497.4 25.05L498.95 27.76L495.85 27.76Z" fill="#1e8aff"/>
<text class="lg" x="499.4" y="28.7" textLength="38.4" lengthAdjust="spacingAndGlyphs">MOEAD/-EGO</text>
<text class="cap" x="405.9" y="169.8">(<tspan font-weight="bold">c</tspan>) DTLZ5 <tspan font-style="italic">D</tspan> = 10.</text>
<path d="M20.2 212.1 L24.14 212.1 L28.07 212.1 L32.01 212.1 L35.95 212.1 L39.89 212.1 L43.83 212.1 L47.76 212.1 L51.7 212.1 L55.64 212.1 L59.58 212.1 L63.51 212.1 L67.45 212.1 L71.39 223.3 L75.33 223.3 L79.26 223.3 L83.2 223.3 L87.14 223.3 L91.08 223.3 L95.01 223.3 L98.95 223.3 L102.89 223.3 L106.83 223.3 L110.76 223.3 L114.7 223.3 L118.64 223.3 L122.58 223.3 L126.51 223.3 L130.45 223.3 L134.39 223.3 L138.32 223.3 L142.26 223.3 L146.2 223.3 L150.14 223.3 L154.07 226.38 L158.01 226.4 L161.95 226.4 L165.89 226.4 L169.82 226.4 L173.76 226.4 L177.7 226.4" fill="none" stroke="#383838" stroke-width="0.9" stroke-linejoin="round"/>
<circle cx="20.2" cy="212.1" r="1.1" fill="#383838"/><circle cx="24.14" cy="212.1" r="1.1" fill="#383838"/><circle cx="28.07" cy="212.1" r="1.1" fill="#383838"/><circle cx="32.01" cy="212.1" r="1.1" fill="#383838"/><circle cx="35.95" cy="212.1" r="1.1" fill="#383838"/><circle cx="39.89" cy="212.1" r="1.1" fill="#383838"/><circle cx="43.83" cy="212.1" r="1.1" fill="#383838"/><circle cx="47.76" cy="212.1" r="1.1" fill="#383838"/><circle cx="51.7" cy="212.1" r="1.1" fill="#383838"/><circle cx="55.64" cy="212.1" r="1.1" fill="#383838"/><circle cx="59.58" cy="212.1" r="1.1" fill="#383838"/><circle cx="63.51" cy="212.1" r="1.1" fill="#383838"/><circle cx="67.45" cy="212.1" r="1.1" fill="#383838"/><circle cx="71.39" cy="223.3" r="1.1" fill="#383838"/><circle cx="75.33" cy="223.3" r="1.1" fill="#383838"/><circle cx="79.26" cy="223.3" r="1.1" fill="#383838"/><circle cx="83.2" cy="223.3" r="1.1" fill="#383838"/><circle cx="87.14" cy="223.3" r="1.1" fill="#383838"/><circle cx="91.08" cy="223.3" r="1.1" fill="#383838"/><circle cx="95.01" cy="223.3" r="1.1" fill="#383838"/><circle cx="98.95" cy="223.3" r="1.1" fill="#383838"/><circle cx="102.89" cy="223.3" r="1.1" fill="#383838"/><circle cx="106.83" cy="223.3" r="1.1" fill="#383838"/><circle cx="110.76" cy="223.3" r="1.1" fill="#383838"/><circle cx="114.7" cy="223.3" r="1.1" fill="#383838"/><circle cx="118.64" cy="223.3" r="1.1" fill="#383838"/><circle cx="122.58" cy="223.3" r="1.1" fill="#383838"/><circle cx="126.51" cy="223.3" r="1.1" fill="#383838"/><circle cx="130.45" cy="223.3" r="1.1" fill="#383838"/><circle cx="134.39" cy="223.3" r="1.1" fill="#383838"/><circle cx="138.32" cy="223.3" r="1.1" fill="#383838"/><circle cx="142.26" cy="223.3" r="1.1" fill="#383838"/><circle cx="146.2" cy="223.3" r="1.1" fill="#383838"/><circle cx="150.14" cy="223.3" r="1.1" fill="#383838"/><circle cx="154.07" cy="226.38" r="1.1" fill="#383838"/><circle cx="158.01" cy="226.4" r="1.1" fill="#383838"/><circle cx="161.95" cy="226.4" r="1.1" fill="#383838"/><circle cx="165.89" cy="226.4" r="1.1" fill="#383838"/><circle cx="169.82" cy="226.4" r="1.1" fill="#383838"/><circle cx="173.76" cy="226.4" r="1.1" fill="#383838"/><circle cx="177.7" cy="226.4" r="1.1" fill="#383838"/>
<path d="M20.2 220.8 L24.14 225.17 L28.07 232.7 L32.01 237.3 L35.95 283.04 L39.89 289.67 L43.83 293.15 L47.76 308.8 L51.7 308.76 L55.64 308.3 L59.58 308.6 L63.51 312.42 L67.45 312.63 L71.39 312.89 L75.33 312.9 L79.26 312.89 L83.2 312.08 L87.14 311.7 L91.08 311.7 L95.01 311.7 L98.95 311.87 L102.89 316.29 L106.83 315.98 L110.76 315.5 L114.7 315.55 L118.64 315.6 L122.58 315.6 L126.51 315.6 L130.45 315.95 L134.39 316.32 L138.32 316.75 L142.26 317.5 L146.2 317.5 L150.14 317.5 L154.07 317.5 L158.01 317.5 L161.95 317.5 L165.89 317.59 L169.82 317.86 L173.76 317.54 L177.7 317.21" fill="none" stroke="#ff0a0a" stroke-width="1.05" stroke-linejoin="round"/>
<circle cx="20.2" cy="220.8" r="1.2" fill="#ff0a0a"/><circle cx="24.14" cy="225.17" r="1.2" fill="#ff0a0a"/><circle cx="28.07" cy="232.7" r="1.2" fill="#ff0a0a"/><circle cx="32.01" cy="237.3" r="1.2" fill="#ff0a0a"/><circle cx="35.95" cy="283.04" r="1.2" fill="#ff0a0a"/><circle cx="39.89" cy="289.67" r="1.2" fill="#ff0a0a"/><circle cx="43.83" cy="293.15" r="1.2" fill="#ff0a0a"/><circle cx="47.76" cy="308.8" r="1.2" fill="#ff0a0a"/><circle cx="51.7" cy="308.76" r="1.2" fill="#ff0a0a"/><circle cx="55.64" cy="308.3" r="1.2" fill="#ff0a0a"/><circle cx="59.58" cy="308.6" r="1.2" fill="#ff0a0a"/><circle cx="63.51" cy="312.42" r="1.2" fill="#ff0a0a"/><circle cx="67.45" cy="312.63" r="1.2" fill="#ff0a0a"/><circle cx="71.39" cy="312.89" r="1.2" fill="#ff0a0a"/><circle cx="75.33" cy="312.9" r="1.2" fill="#ff0a0a"/><circle cx="79.26" cy="312.89" r="1.2" fill="#ff0a0a"/><circle cx="83.2" cy="312.08" r="1.2" fill="#ff0a0a"/><circle cx="87.14" cy="311.7" r="1.2" fill="#ff0a0a"/><circle cx="91.08" cy="311.7" r="1.2" fill="#ff0a0a"/><circle cx="95.01" cy="311.7" r="1.2" fill="#ff0a0a"/><circle cx="98.95" cy="311.87" r="1.2" fill="#ff0a0a"/><circle cx="102.89" cy="316.29" r="1.2" fill="#ff0a0a"/><circle cx="106.83" cy="315.98" r="1.2" fill="#ff0a0a"/><circle cx="110.76" cy="315.5" r="1.2" fill="#ff0a0a"/><circle cx="114.7" cy="315.55" r="1.2" fill="#ff0a0a"/><circle cx="118.64" cy="315.6" r="1.2" fill="#ff0a0a"/><circle cx="122.58" cy="315.6" r="1.2" fill="#ff0a0a"/><circle cx="126.51" cy="315.6" r="1.2" fill="#ff0a0a"/><circle cx="130.45" cy="315.95" r="1.2" fill="#ff0a0a"/><circle cx="134.39" cy="316.32" r="1.2" fill="#ff0a0a"/><circle cx="138.32" cy="316.75" r="1.2" fill="#ff0a0a"/><circle cx="142.26" cy="317.5" r="1.2" fill="#ff0a0a"/><circle cx="146.2" cy="317.5" r="1.2" fill="#ff0a0a"/><circle cx="150.14" cy="317.5" r="1.2" fill="#ff0a0a"/><circle cx="154.07" cy="317.5" r="1.2" fill="#ff0a0a"/><circle cx="158.01" cy="317.5" r="1.2" fill="#ff0a0a"/><circle cx="161.95" cy="317.5" r="1.2" fill="#ff0a0a"/><circle cx="165.89" cy="317.59" r="1.2" fill="#ff0a0a"/><circle cx="169.82" cy="317.86" r="1.2" fill="#ff0a0a"/><circle cx="173.76" cy="317.54" r="1.2" fill="#ff0a0a"/><circle cx="177.7" cy="317.21" r="1.2" fill="#ff0a0a"/>
<path d="M20.2 216.7 L24.14 219.5 L28.07 238.72 L32.01 249.74 L35.95 258.51 L39.89 262.3 L43.83 263.05 L47.76 263.3 L51.7 263.7 L55.64 265.3 L59.58 265.6 L63.51 265.6 L67.45 265.65 L71.39 265.7 L75.33 266 L79.26 266.3 L83.2 266.3 L87.14 266.3 L91.08 266.3 L95.01 268 L98.95 268 L102.89 267.86 L106.83 267.21 L110.76 267.46 L114.7 267.87 L118.64 268 L122.58 268 L126.51 268 L130.45 268.15 L134.39 268.35 L138.32 269.1 L142.26 269.09 L146.2 269.02 L150.14 268.94 L154.07 268.86 L158.01 268.8 L161.95 268.86 L165.89 270.4 L169.82 271.2 L173.76 271.4 L177.7 271.4" fill="none" stroke="#1e8aff" stroke-width="1.0" stroke-linejoin="round"/>
<path d="M20.2 215.15L21.75 217.86L18.65 217.86Z" fill="#1e8aff"/><path d="M24.14 217.95L25.69 220.66L22.59 220.66Z" fill="#1e8aff"/><path d="M28.07 237.17L29.62 239.88L26.52 239.88Z" fill="#1e8aff"/><path d="M32.01 248.19L33.56 250.9L30.46 250.9Z" fill="#1e8aff"/><path d="M35.95 256.96L37.5 259.67L34.4 259.67Z" fill="#1e8aff"/><path d="M39.89 260.75L41.44 263.47L38.34 263.47Z" fill="#1e8aff"/><path d="M43.83 261.5L45.38 264.21L42.28 264.21Z" fill="#1e8aff"/><path d="M47.76 261.75L49.31 264.46L46.21 264.46Z" fill="#1e8aff"/><path d="M51.7 262.15L53.25 264.86L50.15 264.86Z" fill="#1e8aff"/><path d="M55.64 263.75L57.19 266.46L54.09 266.46Z" fill="#1e8aff"/><path d="M59.58 264.05L61.12 266.76L58.03 266.76Z" fill="#1e8aff"/><path d="M63.51 264.05L65.06 266.76L61.96 266.76Z" fill="#1e8aff"/><path d="M67.45 264.1L69 266.81L65.9 266.81Z" fill="#1e8aff"/><path d="M71.39 264.15L72.94 266.86L69.84 266.86Z" fill="#1e8aff"/><path d="M75.33 264.45L76.88 267.16L73.78 267.16Z" fill="#1e8aff"/><path d="M79.26 264.75L80.81 267.46L77.71 267.46Z" fill="#1e8aff"/><path d="M83.2 264.75L84.75 267.46L81.65 267.46Z" fill="#1e8aff"/><path d="M87.14 264.75L88.69 267.46L85.59 267.46Z" fill="#1e8aff"/><path d="M91.08 264.75L92.62 267.46L89.53 267.46Z" fill="#1e8aff"/><path d="M95.01 266.45L96.56 269.16L93.46 269.16Z" fill="#1e8aff"/><path d="M98.95 266.45L100.5 269.16L97.4 269.16Z" fill="#1e8aff"/><path d="M102.89 266.31L104.44 269.03L101.34 269.03Z" fill="#1e8aff"/><path d="M106.83 265.66L108.38 268.37L105.28 268.37Z" fill="#1e8aff"/><path d="M110.76 265.91L112.31 268.63L109.21 268.63Z" fill="#1e8aff"/><path d="M114.7 266.32L116.25 269.03L113.15 269.03Z" fill="#1e8aff"/><path d="M118.64 266.45L120.19 269.16L117.09 269.16Z" fill="#1e8aff"/><path d="M122.58 266.45L124.12 269.16L121.03 269.16Z" fill="#1e8aff"/><path d="M126.51 266.45L128.06 269.16L124.96 269.16Z" fill="#1e8aff"/><path d="M130.45 266.6L132 269.31L128.9 269.31Z" fill="#1e8aff"/><path d="M134.39 266.8L135.94 269.51L132.84 269.51Z" fill="#1e8aff"/><path d="M138.32 267.55L139.88 270.26L136.77 270.26Z" fill="#1e8aff"/><path d="M142.26 267.54L143.81 270.26L140.71 270.26Z" fill="#1e8aff"/><path d="M146.2 267.47L147.75 270.18L144.65 270.18Z" fill="#1e8aff"/><path d="M150.14 267.39L151.69 270.1L148.59 270.1Z" fill="#1e8aff"/><path d="M154.07 267.31L155.62 270.02L152.52 270.02Z" fill="#1e8aff"/><path d="M158.01 267.25L159.56 269.96L156.46 269.96Z" fill="#1e8aff"/><path d="M161.95 267.31L163.5 270.02L160.4 270.02Z" fill="#1e8aff"/><path d="M165.89 268.85L167.44 271.56L164.34 271.56Z" fill="#1e8aff"/><path d="M169.82 269.65L171.38 272.36L168.27 272.36Z" fill="#1e8aff"/><path d="M173.76 269.85L175.31 272.56L172.21 272.56Z" fill="#1e8aff"/><path d="M177.7 269.85L179.25 272.56L176.15 272.56Z" fill="#1e8aff"/>
<rect x="20.2" y="196.4" width="157.5" height="126.9" fill="none" stroke="#262626" stroke-width="1.1"/>
<path d="M20.2 323.3V320.7M20.2 196.4V199M39.89 323.3V321.8M59.58 323.3V320.7M59.58 196.4V199M79.26 323.3V321.8M98.95 323.3V320.7M98.95 196.4V199M118.64 323.3V321.8M138.32 323.3V320.7M138.32 196.4V199M158.01 323.3V321.8M177.7 323.3V320.7M177.7 196.4V199M20.2 323.3H22.8M20.2 316.62H21.7M20.2 309.94H22.8M20.2 303.26H21.7M20.2 296.58H22.8M20.2 289.91H21.7M20.2 283.23H22.8M20.2 276.55H21.7M20.2 269.87H22.8M20.2 263.19H21.7M20.2 256.51H22.8M20.2 249.83H21.7M20.2 243.15H22.8M20.2 236.47H21.7M20.2 229.79H22.8M20.2 223.12H21.7M20.2 216.44H22.8M20.2 209.76H21.7M20.2 203.08H22.8M20.2 196.4H21.7M177.7 316.62H175.1M177.7 303.26H175.1M177.7 289.91H175.1M177.7 276.55H175.1M177.7 263.19H175.1M177.7 249.83H175.1M177.7 236.47H175.1M177.7 223.12H175.1M177.7 209.76H175.1" stroke="#262626" stroke-width="0.9" fill="none"/>
<g class="tl"><text x="17" y="325.3" text-anchor="end">0.0</text><text x="17" y="311.94" text-anchor="end">0.2</text><text x="17" y="298.58" text-anchor="end">0.4</text><text x="17" y="285.23" text-anchor="end">0.6</text><text x="17" y="271.87" text-anchor="end">0.8</text><text x="17" y="258.51" text-anchor="end">1.0</text><text x="17" y="245.15" text-anchor="end">1.2</text><text x="17" y="231.79" text-anchor="end">1.4</text><text x="17" y="218.44" text-anchor="end">1.6</text><text x="17" y="205.08" text-anchor="end">1.8</text><text x="20.2" y="330.9" text-anchor="middle">100</text><text x="59.58" y="330.9" text-anchor="middle">150</text><text x="98.95" y="330.9" text-anchor="middle">200</text><text x="138.32" y="330.9" text-anchor="middle">250</text><text x="177.7" y="330.9" text-anchor="middle">300</text></g>
<text class="al" x="98.95" y="339.3" text-anchor="middle">Numbuer of function evaluations</text>
<text class="yl" transform="translate(6.8 259.85) rotate(-90)" text-anchor="middle">IGD</text>
<path d="M120.3 202.6H132.4" stroke="#383838" stroke-width="0.9"/>
<circle cx="120.8" cy="202.6" r="1.1" fill="#383838"/><circle cx="131.9" cy="202.6" r="1.1" fill="#383838"/>
<text class="lg" x="133.6" y="204.7">K-RVEA</text>
<path d="M120.3 209.6H132.4" stroke="#ff0a0a" stroke-width="1.4"/>
<circle cx="120.8" cy="209.6" r="1.2" fill="#ff0a0a"/><circle cx="131.9" cy="209.6" r="1.2" fill="#ff0a0a"/>
<text class="lg" x="133.6" y="211.7">G-HMOEA</text>
<path d="M120.3 217.1H132.4" stroke="#1e8aff" stroke-width="1.15"/>
<path d="M120.8 215.55L122.35 218.26L119.25 218.26Z" fill="#1e8aff"/><path d="M131.9 215.55L133.45 218.26L130.35 218.26Z" fill="#1e8aff"/>
<text class="lg" x="133.6" y="219.2" textLength="38.4" lengthAdjust="spacingAndGlyphs">MOEAD/-EGO</text>
<text class="cap" x="39.7" y="360.3">(<tspan font-weight="bold">d</tspan>) DTLZ5 <tspan font-style="italic">D</tspan> = 30.</text>
<path d="M198.4 210 L202.45 298.15 L206.5 311.28 L210.56 312.92 L214.61 314.11 L218.66 315.3 L222.72 315.94 L226.77 316.52 L230.82 317.06 L234.87 317.6 L238.93 318.18 L242.98 318.67 L247.03 318.94 L251.08 319.2 L255.13 319.47 L259.19 319.63 L263.24 319.68 L267.29 319.73 L271.35 319.79 L275.4 319.84 L279.45 319.89 L283.5 319.93 L287.56 319.97 L291.61 320 L295.66 320.04 L299.71 320.07 L303.76 320.11 L307.82 320.14 L311.87 320.18 L315.92 320.21 L319.98 320.25 L324.03 320.28 L328.08 320.32 L332.13 320.35 L336.19 320.39 L340.24 320.42 L344.29 320.46 L348.34 320.49 L352.39 320.53 L356.45 320.56 L360.5 320.6" fill="none" stroke="#383838" stroke-width="0.9" stroke-linejoin="round"/>
<circle cx="198.4" cy="210" r="1.1" fill="#383838"/><circle cx="202.45" cy="298.15" r="1.1" fill="#383838"/><circle cx="206.5" cy="311.28" r="1.1" fill="#383838"/><circle cx="210.56" cy="312.92" r="1.1" fill="#383838"/><circle cx="214.61" cy="314.11" r="1.1" fill="#383838"/><circle cx="218.66" cy="315.3" r="1.1" fill="#383838"/><circle cx="222.72" cy="315.94" r="1.1" fill="#383838"/><circle cx="226.77" cy="316.52" r="1.1" fill="#383838"/><circle cx="230.82" cy="317.06" r="1.1" fill="#383838"/><circle cx="234.87" cy="317.6" r="1.1" fill="#383838"/><circle cx="238.93" cy="318.18" r="1.1" fill="#383838"/><circle cx="242.98" cy="318.67" r="1.1" fill="#383838"/><circle cx="247.03" cy="318.94" r="1.1" fill="#383838"/><circle cx="251.08" cy="319.2" r="1.1" fill="#383838"/><circle cx="255.13" cy="319.47" r="1.1" fill="#383838"/><circle cx="259.19" cy="319.63" r="1.1" fill="#383838"/><circle cx="263.24" cy="319.68" r="1.1" fill="#383838"/><circle cx="267.29" cy="319.73" r="1.1" fill="#383838"/><circle cx="271.35" cy="319.79" r="1.1" fill="#383838"/><circle cx="275.4" cy="319.84" r="1.1" fill="#383838"/><circle cx="279.45" cy="319.89" r="1.1" fill="#383838"/><circle cx="283.5" cy="319.93" r="1.1" fill="#383838"/><circle cx="287.56" cy="319.97" r="1.1" fill="#383838"/><circle cx="291.61" cy="320" r="1.1" fill="#383838"/><circle cx="295.66" cy="320.04" r="1.1" fill="#383838"/><circle cx="299.71" cy="320.07" r="1.1" fill="#383838"/><circle cx="303.76" cy="320.11" r="1.1" fill="#383838"/><circle cx="307.82" cy="320.14" r="1.1" fill="#383838"/><circle cx="311.87" cy="320.18" r="1.1" fill="#383838"/><circle cx="315.92" cy="320.21" r="1.1" fill="#383838"/><circle cx="319.98" cy="320.25" r="1.1" fill="#383838"/><circle cx="324.03" cy="320.28" r="1.1" fill="#383838"/><circle cx="328.08" cy="320.32" r="1.1" fill="#383838"/><circle cx="332.13" cy="320.35" r="1.1" fill="#383838"/><circle cx="336.19" cy="320.39" r="1.1" fill="#383838"/><circle cx="340.24" cy="320.42" r="1.1" fill="#383838"/><circle cx="344.29" cy="320.46" r="1.1" fill="#383838"/><circle cx="348.34" cy="320.49" r="1.1" fill="#383838"/><circle cx="352.39" cy="320.53" r="1.1" fill="#383838"/><circle cx="356.45" cy="320.56" r="1.1" fill="#383838"/><circle cx="360.5" cy="320.6" r="1.1" fill="#383838"/>
<path d="M198.4 209.9 L202.45 312.4 L206.5 312.44 L210.56 314.02 L214.61 315.24 L218.66 315.94 L222.72 316.34 L226.77 316.72 L230.82 317.14 L234.87 317.62 L238.93 318.33 L242.98 319.21 L247.03 319.6 L251.08 319.86 L255.13 320.02 L259.19 320.1 L263.24 320.1 L267.29 320.1 L271.35 320.1 L275.4 320.1 L279.45 320.13 L283.5 320.16 L287.56 320.2 L291.61 320.23 L295.66 320.26 L299.71 320.3 L303.76 320.33 L307.82 320.36 L311.87 320.4 L315.92 320.43 L319.98 320.46 L324.03 320.5 L328.08 320.53 L332.13 320.57 L336.19 320.6 L340.24 320.63 L344.29 320.67 L348.34 320.7 L352.39 320.73 L356.45 320.77 L360.5 320.8" fill="none" stroke="#ff0a0a" stroke-width="1.05" stroke-linejoin="round"/>
<circle cx="198.4" cy="209.9" r="1.2" fill="#ff0a0a"/><circle cx="202.45" cy="312.4" r="1.2" fill="#ff0a0a"/><circle cx="206.5" cy="312.44" r="1.2" fill="#ff0a0a"/><circle cx="210.56" cy="314.02" r="1.2" fill="#ff0a0a"/><circle cx="214.61" cy="315.24" r="1.2" fill="#ff0a0a"/><circle cx="218.66" cy="315.94" r="1.2" fill="#ff0a0a"/><circle cx="222.72" cy="316.34" r="1.2" fill="#ff0a0a"/><circle cx="226.77" cy="316.72" r="1.2" fill="#ff0a0a"/><circle cx="230.82" cy="317.14" r="1.2" fill="#ff0a0a"/><circle cx="234.87" cy="317.62" r="1.2" fill="#ff0a0a"/><circle cx="238.93" cy="318.33" r="1.2" fill="#ff0a0a"/><circle cx="242.98" cy="319.21" r="1.2" fill="#ff0a0a"/><circle cx="247.03" cy="319.6" r="1.2" fill="#ff0a0a"/><circle cx="251.08" cy="319.86" r="1.2" fill="#ff0a0a"/><circle cx="255.13" cy="320.02" r="1.2" fill="#ff0a0a"/><circle cx="259.19" cy="320.1" r="1.2" fill="#ff0a0a"/><circle cx="263.24" cy="320.1" r="1.2" fill="#ff0a0a"/><circle cx="267.29" cy="320.1" r="1.2" fill="#ff0a0a"/><circle cx="271.35" cy="320.1" r="1.2" fill="#ff0a0a"/><circle cx="275.4" cy="320.1" r="1.2" fill="#ff0a0a"/><circle cx="279.45" cy="320.13" r="1.2" fill="#ff0a0a"/><circle cx="283.5" cy="320.16" r="1.2" fill="#ff0a0a"/><circle cx="287.56" cy="320.2" r="1.2" fill="#ff0a0a"/><circle cx="291.61" cy="320.23" r="1.2" fill="#ff0a0a"/><circle cx="295.66" cy="320.26" r="1.2" fill="#ff0a0a"/><circle cx="299.71" cy="320.3" r="1.2" fill="#ff0a0a"/><circle cx="303.76" cy="320.33" r="1.2" fill="#ff0a0a"/><circle cx="307.82" cy="320.36" r="1.2" fill="#ff0a0a"/><circle cx="311.87" cy="320.4" r="1.2" fill="#ff0a0a"/><circle cx="315.92" cy="320.43" r="1.2" fill="#ff0a0a"/><circle cx="319.98" cy="320.46" r="1.2" fill="#ff0a0a"/><circle cx="324.03" cy="320.5" r="1.2" fill="#ff0a0a"/><circle cx="328.08" cy="320.53" r="1.2" fill="#ff0a0a"/><circle cx="332.13" cy="320.57" r="1.2" fill="#ff0a0a"/><circle cx="336.19" cy="320.6" r="1.2" fill="#ff0a0a"/><circle cx="340.24" cy="320.63" r="1.2" fill="#ff0a0a"/><circle cx="344.29" cy="320.67" r="1.2" fill="#ff0a0a"/><circle cx="348.34" cy="320.7" r="1.2" fill="#ff0a0a"/><circle cx="352.39" cy="320.73" r="1.2" fill="#ff0a0a"/><circle cx="356.45" cy="320.77" r="1.2" fill="#ff0a0a"/><circle cx="360.5" cy="320.8" r="1.2" fill="#ff0a0a"/>
<path d="M198.4 198.4 L202.45 212.48 L206.5 257.55 L210.56 281.49 L214.61 287.76 L218.66 299.66 L222.72 303.62 L226.77 307.57 L230.82 309.27 L234.87 311.01 L238.93 313.41 L242.98 313.8 L247.03 314.17 L251.08 314.4 L255.13 314.4 L259.19 314.4 L263.24 314.4 L267.29 314.56 L271.35 314.82 L275.4 315.93 L279.45 316.19 L283.5 316.4 L287.56 316.55 L291.61 316.72 L295.66 316.98 L299.71 317.23 L303.76 317.39 L307.82 317.55 L311.87 317.71 L315.92 317.82 L319.98 317.88 L324.03 317.96 L328.08 318.06 L332.13 318.17 L336.19 318.27 L340.24 318.34 L344.29 318.39 L348.34 318.44 L352.39 318.5 L356.45 318.55 L360.5 318.6" fill="none" stroke="#1e8aff" stroke-width="1.0" stroke-linejoin="round"/>
<path d="M198.4 196.85L199.95 199.56L196.85 199.56Z" fill="#1e8aff"/><path d="M202.45 210.93L204 213.64L200.9 213.64Z" fill="#1e8aff"/><path d="M206.5 256L208.06 258.72L204.95 258.72Z" fill="#1e8aff"/><path d="M210.56 279.94L212.11 282.65L209.01 282.65Z" fill="#1e8aff"/><path d="M214.61 286.21L216.16 288.92L213.06 288.92Z" fill="#1e8aff"/><path d="M218.66 298.11L220.21 300.82L217.11 300.82Z" fill="#1e8aff"/><path d="M222.72 302.07L224.27 304.78L221.16 304.78Z" fill="#1e8aff"/><path d="M226.77 306.02L228.32 308.73L225.22 308.73Z" fill="#1e8aff"/><path d="M230.82 307.72L232.37 310.43L229.27 310.43Z" fill="#1e8aff"/><path d="M234.87 309.46L236.42 312.17L233.32 312.17Z" fill="#1e8aff"/><path d="M238.93 311.86L240.48 314.57L237.38 314.57Z" fill="#1e8aff"/><path d="M242.98 312.25L244.53 314.96L241.43 314.96Z" fill="#1e8aff"/><path d="M247.03 312.62L248.58 315.33L245.48 315.33Z" fill="#1e8aff"/><path d="M251.08 312.85L252.63 315.56L249.53 315.56Z" fill="#1e8aff"/><path d="M255.13 312.85L256.69 315.56L253.58 315.56Z" fill="#1e8aff"/><path d="M259.19 312.85L260.74 315.56L257.64 315.56Z" fill="#1e8aff"/><path d="M263.24 312.85L264.79 315.56L261.69 315.56Z" fill="#1e8aff"/><path d="M267.29 313.01L268.84 315.72L265.74 315.72Z" fill="#1e8aff"/><path d="M271.35 313.27L272.9 315.99L269.8 315.99Z" fill="#1e8aff"/><path d="M275.4 314.38L276.95 317.09L273.85 317.09Z" fill="#1e8aff"/><path d="M279.45 314.64L281 317.36L277.9 317.36Z" fill="#1e8aff"/><path d="M283.5 314.85L285.05 317.56L281.95 317.56Z" fill="#1e8aff"/><path d="M287.56 315L289.11 317.72L286 317.72Z" fill="#1e8aff"/><path d="M291.61 315.17L293.16 317.88L290.06 317.88Z" fill="#1e8aff"/><path d="M295.66 315.43L297.21 318.15L294.11 318.15Z" fill="#1e8aff"/><path d="M299.71 315.68L301.26 318.39L298.16 318.39Z" fill="#1e8aff"/><path d="M303.76 315.84L305.31 318.55L302.21 318.55Z" fill="#1e8aff"/><path d="M307.82 316L309.37 318.71L306.27 318.71Z" fill="#1e8aff"/><path d="M311.87 316.16L313.42 318.87L310.32 318.87Z" fill="#1e8aff"/><path d="M315.92 316.27L317.47 318.98L314.37 318.98Z" fill="#1e8aff"/><path d="M319.98 316.32L321.53 319.04L318.43 319.04Z" fill="#1e8aff"/><path d="M324.03 316.41L325.58 319.12L322.48 319.12Z" fill="#1e8aff"/><path d="M328.08 316.51L329.63 319.22L326.53 319.22Z" fill="#1e8aff"/><path d="M332.13 316.62L333.68 319.33L330.58 319.33Z" fill="#1e8aff"/><path d="M336.19 316.72L337.74 319.44L334.63 319.44Z" fill="#1e8aff"/><path d="M340.24 316.79L341.79 319.5L338.69 319.5Z" fill="#1e8aff"/><path d="M344.29 316.84L345.84 319.55L342.74 319.55Z" fill="#1e8aff"/><path d="M348.34 316.89L349.89 319.61L346.79 319.61Z" fill="#1e8aff"/><path d="M352.39 316.95L353.94 319.66L350.84 319.66Z" fill="#1e8aff"/><path d="M356.45 317L358 319.71L354.9 319.71Z" fill="#1e8aff"/><path d="M360.5 317.05L362.05 319.76L358.95 319.76Z" fill="#1e8aff"/>
<rect x="198.4" y="192.6" width="162.1" height="130.2" fill="none" stroke="#262626" stroke-width="1.1"/>
<path d="M198.4 322.8V320.2M198.4 192.6V195.2M218.66 322.8V321.3M238.93 322.8V320.2M238.93 192.6V195.2M259.19 322.8V321.3M279.45 322.8V320.2M279.45 192.6V195.2M299.71 322.8V321.3M319.98 322.8V320.2M319.98 192.6V195.2M340.24 322.8V321.3M360.5 322.8V320.2M360.5 192.6V195.2M198.4 322.8H201M198.4 314.12H199.9M198.4 305.44H201M198.4 296.76H199.9M198.4 288.08H201M198.4 279.4H199.9M198.4 270.72H201M198.4 262.04H199.9M198.4 253.36H201M198.4 244.68H199.9M198.4 236H201M198.4 227.32H199.9M198.4 218.64H201M198.4 209.96H199.9M198.4 201.28H201M198.4 192.6H199.9M360.5 305.44H357.9M360.5 288.08H357.9M360.5 270.72H357.9M360.5 253.36H357.9M360.5 236H357.9M360.5 218.64H357.9M360.5 201.28H357.9" stroke="#262626" stroke-width="0.9" fill="none"/>
<g class="tl"><text x="195.2" y="324.8" text-anchor="end">0</text><text x="195.2" y="307.44" text-anchor="end">1</text><text x="195.2" y="290.08" text-anchor="end">2</text><text x="195.2" y="272.72" text-anchor="end">3</text><text x="195.2" y="255.36" text-anchor="end">4</text><text x="195.2" y="238" text-anchor="end">5</text><text x="195.2" y="220.64" text-anchor="end">6</text><text x="195.2" y="203.28" text-anchor="end">7</text><text x="198.4" y="330.4" text-anchor="middle">100</text><text x="238.93" y="330.4" text-anchor="middle">150</text><text x="279.45" y="330.4" text-anchor="middle">200</text><text x="319.98" y="330.4" text-anchor="middle">250</text><text x="360.5" y="330.4" text-anchor="middle">300</text></g>
<text class="al" x="279.45" y="339.2" text-anchor="middle">Numbuer of function evaluations</text>
<text class="yl" transform="translate(189.6 257.7) rotate(-90)" text-anchor="middle">IGD</text>
<path d="M301.2 199.2H313.5" stroke="#383838" stroke-width="0.9"/>
<circle cx="301.7" cy="199.2" r="1.1" fill="#383838"/><circle cx="313" cy="199.2" r="1.1" fill="#383838"/>
<text class="lg" x="315.5" y="201.3">K-RVEA</text>
<path d="M301.2 206.6H313.5" stroke="#ff0a0a" stroke-width="1.4"/>
<circle cx="301.7" cy="206.6" r="1.2" fill="#ff0a0a"/><circle cx="313" cy="206.6" r="1.2" fill="#ff0a0a"/>
<text class="lg" x="315.5" y="208.7">G-HMOEA</text>
<path d="M301.2 214.2H313.5" stroke="#1e8aff" stroke-width="1.15"/>
<path d="M301.7 212.65L303.25 215.36L300.15 215.36Z" fill="#1e8aff"/><path d="M313 212.65L314.55 215.36L311.45 215.36Z" fill="#1e8aff"/>
<text class="lg" x="315.5" y="216.3" textLength="39.36" lengthAdjust="spacingAndGlyphs">MOEAD/-EGO</text>
<text class="cap" x="222.8" y="360.3">(<tspan font-weight="bold">e</tspan>) DTLZ7 <tspan font-style="italic">D</tspan> = 10.</text>
<path d="M384.4 203.7 L388.38 265.31 L392.35 280.67 L396.32 290.73 L400.3 303.16 L404.27 306.12 L408.25 308.04 L412.22 309.27 L416.2 310.25 L420.17 311.09 L424.15 312.12 L428.12 313.74 L432.1 314.36 L436.07 314.95 L440.05 315.28 L444.02 315.62 L448 315.96 L451.97 316.24 L455.95 316.4 L459.92 316.56 L463.9 316.72 L467.88 316.94 L471.85 317.16 L475.82 317.27 L479.8 317.39 L483.77 317.51 L487.75 317.63 L491.72 317.88 L495.7 318.3 L499.67 318.72 L503.65 319.1 L507.62 319.15 L511.6 319.2 L515.58 319.25 L519.55 319.3 L523.52 319.35 L527.5 319.4 L531.47 319.45 L535.45 319.5 L539.42 319.55 L543.4 319.6" fill="none" stroke="#383838" stroke-width="0.9" stroke-linejoin="round"/>
<circle cx="384.4" cy="203.7" r="1.1" fill="#383838"/><circle cx="388.38" cy="265.31" r="1.1" fill="#383838"/><circle cx="392.35" cy="280.67" r="1.1" fill="#383838"/><circle cx="396.32" cy="290.73" r="1.1" fill="#383838"/><circle cx="400.3" cy="303.16" r="1.1" fill="#383838"/><circle cx="404.27" cy="306.12" r="1.1" fill="#383838"/><circle cx="408.25" cy="308.04" r="1.1" fill="#383838"/><circle cx="412.22" cy="309.27" r="1.1" fill="#383838"/><circle cx="416.2" cy="310.25" r="1.1" fill="#383838"/><circle cx="420.17" cy="311.09" r="1.1" fill="#383838"/><circle cx="424.15" cy="312.12" r="1.1" fill="#383838"/><circle cx="428.12" cy="313.74" r="1.1" fill="#383838"/><circle cx="432.1" cy="314.36" r="1.1" fill="#383838"/><circle cx="436.07" cy="314.95" r="1.1" fill="#383838"/><circle cx="440.05" cy="315.28" r="1.1" fill="#383838"/><circle cx="444.02" cy="315.62" r="1.1" fill="#383838"/><circle cx="448" cy="315.96" r="1.1" fill="#383838"/><circle cx="451.97" cy="316.24" r="1.1" fill="#383838"/><circle cx="455.95" cy="316.4" r="1.1" fill="#383838"/><circle cx="459.92" cy="316.56" r="1.1" fill="#383838"/><circle cx="463.9" cy="316.72" r="1.1" fill="#383838"/><circle cx="467.88" cy="316.94" r="1.1" fill="#383838"/><circle cx="471.85" cy="317.16" r="1.1" fill="#383838"/><circle cx="475.82" cy="317.27" r="1.1" fill="#383838"/><circle cx="479.8" cy="317.39" r="1.1" fill="#383838"/><circle cx="483.77" cy="317.51" r="1.1" fill="#383838"/><circle cx="487.75" cy="317.63" r="1.1" fill="#383838"/><circle cx="491.72" cy="317.88" r="1.1" fill="#383838"/><circle cx="495.7" cy="318.3" r="1.1" fill="#383838"/><circle cx="499.67" cy="318.72" r="1.1" fill="#383838"/><circle cx="503.65" cy="319.1" r="1.1" fill="#383838"/><circle cx="507.62" cy="319.15" r="1.1" fill="#383838"/><circle cx="511.6" cy="319.2" r="1.1" fill="#383838"/><circle cx="515.58" cy="319.25" r="1.1" fill="#383838"/><circle cx="519.55" cy="319.3" r="1.1" fill="#383838"/><circle cx="523.52" cy="319.35" r="1.1" fill="#383838"/><circle cx="527.5" cy="319.4" r="1.1" fill="#383838"/><circle cx="531.47" cy="319.45" r="1.1" fill="#383838"/><circle cx="535.45" cy="319.5" r="1.1" fill="#383838"/><circle cx="539.42" cy="319.55" r="1.1" fill="#383838"/><circle cx="543.4" cy="319.6" r="1.1" fill="#383838"/>
<path d="M384.4 203.7 L388.38 277.7 L392.35 281.27 L396.32 303.7 L400.3 303.7 L404.27 303.7 L408.25 303.94 L412.22 304.18 L416.2 304.34 L420.17 304.5 L424.15 304.91 L428.12 313.43 L432.1 313.95 L436.07 314.48 L440.05 315.05 L444.02 315.6 L448 316.06 L451.97 316.51 L455.95 316.93 L459.92 317.27 L463.9 317.48 L467.88 319.51 L471.85 319.63 L475.82 319.76 L479.8 319.87 L483.77 319.97 L487.75 320.07 L491.72 320.18 L495.7 320.29 L499.67 320.4 L503.65 320.59 L507.62 321.3 L511.6 321.3 L515.58 321.3 L519.55 321.3 L523.52 321.3 L527.5 321.23 L531.47 321.17 L535.45 321.11 L539.42 321.05 L543.4 321" fill="none" stroke="#ff0a0a" stroke-width="1.05" stroke-linejoin="round"/>
<circle cx="384.4" cy="203.7" r="1.2" fill="#ff0a0a"/><circle cx="388.38" cy="277.7" r="1.2" fill="#ff0a0a"/><circle cx="392.35" cy="281.27" r="1.2" fill="#ff0a0a"/><circle cx="396.32" cy="303.7" r="1.2" fill="#ff0a0a"/><circle cx="400.3" cy="303.7" r="1.2" fill="#ff0a0a"/><circle cx="404.27" cy="303.7" r="1.2" fill="#ff0a0a"/><circle cx="408.25" cy="303.94" r="1.2" fill="#ff0a0a"/><circle cx="412.22" cy="304.18" r="1.2" fill="#ff0a0a"/><circle cx="416.2" cy="304.34" r="1.2" fill="#ff0a0a"/><circle cx="420.17" cy="304.5" r="1.2" fill="#ff0a0a"/><circle cx="424.15" cy="304.91" r="1.2" fill="#ff0a0a"/><circle cx="428.12" cy="313.43" r="1.2" fill="#ff0a0a"/><circle cx="432.1" cy="313.95" r="1.2" fill="#ff0a0a"/><circle cx="436.07" cy="314.48" r="1.2" fill="#ff0a0a"/><circle cx="440.05" cy="315.05" r="1.2" fill="#ff0a0a"/><circle cx="444.02" cy="315.6" r="1.2" fill="#ff0a0a"/><circle cx="448" cy="316.06" r="1.2" fill="#ff0a0a"/><circle cx="451.97" cy="316.51" r="1.2" fill="#ff0a0a"/><circle cx="455.95" cy="316.93" r="1.2" fill="#ff0a0a"/><circle cx="459.92" cy="317.27" r="1.2" fill="#ff0a0a"/><circle cx="463.9" cy="317.48" r="1.2" fill="#ff0a0a"/><circle cx="467.88" cy="319.51" r="1.2" fill="#ff0a0a"/><circle cx="471.85" cy="319.63" r="1.2" fill="#ff0a0a"/><circle cx="475.82" cy="319.76" r="1.2" fill="#ff0a0a"/><circle cx="479.8" cy="319.87" r="1.2" fill="#ff0a0a"/><circle cx="483.77" cy="319.97" r="1.2" fill="#ff0a0a"/><circle cx="487.75" cy="320.07" r="1.2" fill="#ff0a0a"/><circle cx="491.72" cy="320.18" r="1.2" fill="#ff0a0a"/><circle cx="495.7" cy="320.29" r="1.2" fill="#ff0a0a"/><circle cx="499.67" cy="320.4" r="1.2" fill="#ff0a0a"/><circle cx="503.65" cy="320.59" r="1.2" fill="#ff0a0a"/><circle cx="507.62" cy="321.3" r="1.2" fill="#ff0a0a"/><circle cx="511.6" cy="321.3" r="1.2" fill="#ff0a0a"/><circle cx="515.58" cy="321.3" r="1.2" fill="#ff0a0a"/><circle cx="519.55" cy="321.3" r="1.2" fill="#ff0a0a"/><circle cx="523.52" cy="321.3" r="1.2" fill="#ff0a0a"/><circle cx="527.5" cy="321.23" r="1.2" fill="#ff0a0a"/><circle cx="531.47" cy="321.17" r="1.2" fill="#ff0a0a"/><circle cx="535.45" cy="321.11" r="1.2" fill="#ff0a0a"/><circle cx="539.42" cy="321.05" r="1.2" fill="#ff0a0a"/><circle cx="543.4" cy="321" r="1.2" fill="#ff0a0a"/>
<path d="M384.4 204 L388.38 204.51 L392.35 204.72 L396.32 204.92 L400.3 205.08 L404.27 205.35 L408.25 206.07 L412.22 207.2 L416.2 208.61 L420.17 212.65 L424.15 212.9 L428.12 212.92 L432.1 213.27 L436.07 213.94 L440.05 214.4 L444.02 214.4 L448 214.4 L451.97 214.4 L455.95 214.57 L459.92 215.66 L463.9 216.34 L467.88 219.4 L471.85 220.1 L475.82 220.1 L479.8 220.1 L483.77 220.1 L487.75 220.34 L491.72 221 L495.7 221 L499.67 221.8 L503.65 221.8 L507.62 221.8 L511.6 221.87 L515.58 221.95 L519.55 222.03 L523.52 222.11 L527.5 222.21 L531.47 222.32 L535.45 222.42 L539.42 222.56 L543.4 222.8" fill="none" stroke="#1e8aff" stroke-width="1.0" stroke-linejoin="round"/>
<path d="M384.4 202.45L385.95 205.16L382.85 205.16Z" fill="#1e8aff"/><path d="M388.38 202.96L389.93 205.68L386.82 205.68Z" fill="#1e8aff"/><path d="M392.35 203.17L393.9 205.88L390.8 205.88Z" fill="#1e8aff"/><path d="M396.32 203.37L397.88 206.08L394.77 206.08Z" fill="#1e8aff"/><path d="M400.3 203.53L401.85 206.24L398.75 206.24Z" fill="#1e8aff"/><path d="M404.27 203.8L405.82 206.51L402.72 206.51Z" fill="#1e8aff"/><path d="M408.25 204.52L409.8 207.23L406.7 207.23Z" fill="#1e8aff"/><path d="M412.22 205.65L413.77 208.36L410.67 208.36Z" fill="#1e8aff"/><path d="M416.2 207.06L417.75 209.77L414.65 209.77Z" fill="#1e8aff"/><path d="M420.17 211.1L421.72 213.82L418.62 213.82Z" fill="#1e8aff"/><path d="M424.15 211.35L425.7 214.06L422.6 214.06Z" fill="#1e8aff"/><path d="M428.12 211.37L429.68 214.08L426.57 214.08Z" fill="#1e8aff"/><path d="M432.1 211.72L433.65 214.43L430.55 214.43Z" fill="#1e8aff"/><path d="M436.07 212.39L437.62 215.11L434.52 215.11Z" fill="#1e8aff"/><path d="M440.05 212.85L441.6 215.56L438.5 215.56Z" fill="#1e8aff"/><path d="M444.02 212.85L445.57 215.56L442.47 215.56Z" fill="#1e8aff"/><path d="M448 212.85L449.55 215.56L446.45 215.56Z" fill="#1e8aff"/><path d="M451.97 212.85L453.52 215.56L450.42 215.56Z" fill="#1e8aff"/><path d="M455.95 213.02L457.5 215.73L454.4 215.73Z" fill="#1e8aff"/><path d="M459.92 214.11L461.47 216.82L458.37 216.82Z" fill="#1e8aff"/><path d="M463.9 214.79L465.45 217.5L462.35 217.5Z" fill="#1e8aff"/><path d="M467.88 217.85L469.43 220.56L466.32 220.56Z" fill="#1e8aff"/><path d="M471.85 218.55L473.4 221.26L470.3 221.26Z" fill="#1e8aff"/><path d="M475.82 218.55L477.38 221.26L474.27 221.26Z" fill="#1e8aff"/><path d="M479.8 218.55L481.35 221.26L478.25 221.26Z" fill="#1e8aff"/><path d="M483.77 218.55L485.32 221.26L482.22 221.26Z" fill="#1e8aff"/><path d="M487.75 218.79L489.3 221.51L486.2 221.51Z" fill="#1e8aff"/><path d="M491.72 219.45L493.27 222.16L490.17 222.16Z" fill="#1e8aff"/><path d="M495.7 219.45L497.25 222.16L494.15 222.16Z" fill="#1e8aff"/><path d="M499.67 220.25L501.22 222.96L498.12 222.96Z" fill="#1e8aff"/><path d="M503.65 220.25L505.2 222.96L502.1 222.96Z" fill="#1e8aff"/><path d="M507.62 220.25L509.18 222.96L506.07 222.96Z" fill="#1e8aff"/><path d="M511.6 220.32L513.15 223.04L510.05 223.04Z" fill="#1e8aff"/><path d="M515.58 220.4L517.12 223.11L514.03 223.11Z" fill="#1e8aff"/><path d="M519.55 220.48L521.1 223.19L518 223.19Z" fill="#1e8aff"/><path d="M523.52 220.56L525.07 223.27L521.98 223.27Z" fill="#1e8aff"/><path d="M527.5 220.66L529.05 223.37L525.95 223.37Z" fill="#1e8aff"/><path d="M531.47 220.77L533.02 223.48L529.92 223.48Z" fill="#1e8aff"/><path d="M535.45 220.87L537 223.58L533.9 223.58Z" fill="#1e8aff"/><path d="M539.42 221.01L540.97 223.73L537.88 223.73Z" fill="#1e8aff"/><path d="M543.4 221.25L544.95 223.96L541.85 223.96Z" fill="#1e8aff"/>
<rect x="384.4" y="195.5" width="159" height="127.8" fill="none" stroke="#262626" stroke-width="1.1"/>
<path d="M384.4 323.3V320.7M384.4 195.5V198.1M404.27 323.3V321.8M424.15 323.3V320.7M424.15 195.5V198.1M444.02 323.3V321.8M463.9 323.3V320.7M463.9 195.5V198.1M483.77 323.3V321.8M503.65 323.3V320.7M503.65 195.5V198.1M523.52 323.3V321.8M543.4 323.3V320.7M543.4 195.5V198.1M384.4 323.3H387M384.4 310.52H385.9M384.4 297.74H387M384.4 284.96H385.9M384.4 272.18H387M384.4 259.4H385.9M384.4 246.62H387M384.4 233.84H385.9M384.4 221.06H387M384.4 208.28H385.9M384.4 195.5H387M543.4 310.52H540.8M543.4 284.96H540.8M543.4 259.4H540.8M543.4 233.84H540.8M543.4 208.28H540.8" stroke="#262626" stroke-width="0.9" fill="none"/>
<g class="tl"><text x="381.2" y="325.3" text-anchor="end">0</text><text x="381.2" y="299.74" text-anchor="end">2</text><text x="381.2" y="274.18" text-anchor="end">4</text><text x="381.2" y="248.62" text-anchor="end">6</text><text x="381.2" y="223.06" text-anchor="end">8</text><text x="381.2" y="197.5" text-anchor="end">10</text><text x="384.4" y="330.9" text-anchor="middle">100</text><text x="424.15" y="330.9" text-anchor="middle">150</text><text x="463.9" y="330.9" text-anchor="middle">200</text><text x="503.65" y="330.9" text-anchor="middle">250</text><text x="543.4" y="330.9" text-anchor="middle">300</text></g>
<text class="al" x="463.9" y="339.1" text-anchor="middle">Numbuer of function evaluations</text>
<text class="yl" transform="translate(372.5 259.4) rotate(-90)" text-anchor="middle">IGD</text>
<path d="M485 201H497.2" stroke="#383838" stroke-width="0.9"/>
<circle cx="485.5" cy="201" r="1.1" fill="#383838"/><circle cx="496.7" cy="201" r="1.1" fill="#383838"/>
<text class="lg" x="498.8" y="203.1">K-RVEA</text>
<path d="M485 208.4H497.2" stroke="#ff0a0a" stroke-width="1.4"/>
<circle cx="485.5" cy="208.4" r="1.2" fill="#ff0a0a"/><circle cx="496.7" cy="208.4" r="1.2" fill="#ff0a0a"/>
<text class="lg" x="498.8" y="210.5">G-HMOEA</text>
<path d="M485 216.3H497.2" stroke="#1e8aff" stroke-width="1.15"/>
<path d="M485.5 214.75L487.05 217.46L483.95 217.46Z" fill="#1e8aff"/><path d="M496.7 214.75L498.25 217.46L495.15 217.46Z" fill="#1e8aff"/>
<text class="lg" x="498.8" y="218.4" textLength="38.4" lengthAdjust="spacingAndGlyphs">MOEAD/-EGO</text>
<text class="cap" x="406.6" y="360.3">(<tspan font-weight="bold">f</tspan>) DTLZ7 <tspan font-style="italic">D</tspan> = 30.</text>
</svg></div>
</body></html>
